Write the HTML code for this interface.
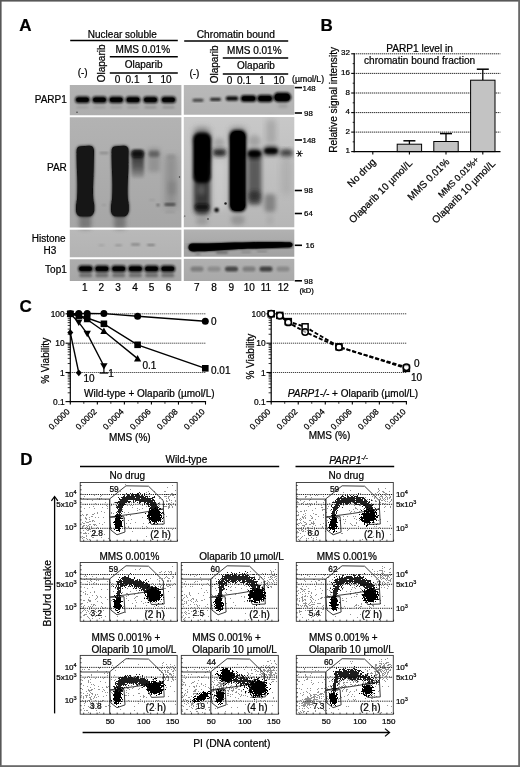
<!DOCTYPE html>
<html><head><meta charset="utf-8"><title>Figure</title>
<style>
html,body{margin:0;padding:0;background:#fff;}
svg{display:block;}
text{font-family:"Liberation Sans",Arial,sans-serif;fill:#000;stroke:#000;stroke-width:0.22px;}
</style></head>
<body>
<svg width="520" height="767" viewBox="0 0 520 767">
<defs>
<filter id="bd" x="-5%" y="-5%" width="110%" height="110%"><feGaussianBlur stdDeviation="0.7"/></filter>
<filter id="b05" x="-20%" y="-20%" width="140%" height="140%"><feGaussianBlur stdDeviation="0.5"/></filter>
<filter id="b1" x="-30%" y="-30%" width="160%" height="160%"><feGaussianBlur stdDeviation="1"/></filter>
<filter id="b15" x="-30%" y="-30%" width="160%" height="160%"><feGaussianBlur stdDeviation="1.5"/></filter>
<filter id="b2" x="-40%" y="-40%" width="180%" height="180%"><feGaussianBlur stdDeviation="2"/></filter>
<filter id="b3" x="-50%" y="-50%" width="200%" height="200%"><feGaussianBlur stdDeviation="3"/></filter>
<filter id="b5" x="-60%" y="-60%" width="220%" height="220%"><feGaussianBlur stdDeviation="5"/></filter>
</defs>
<rect x="0" y="0" width="520" height="767" fill="#fff"/>
<text x="19.30" y="31.00" font-size="17" text-anchor="start" font-weight="bold">A</text>
<text x="122.30" y="38.20" font-size="10" text-anchor="middle" >Nuclear soluble</text>
<line x1="70.20" y1="40.50" x2="177.80" y2="40.50" stroke="#000" stroke-width="1.5" />
<text x="142.80" y="53.10" font-size="10" text-anchor="middle" >MMS 0.01%</text>
<line x1="109.80" y1="56.80" x2="177.80" y2="56.80" stroke="#000" stroke-width="1.5" />
<text x="143.60" y="68.00" font-size="10" text-anchor="middle" >Olaparib</text>
<line x1="109.80" y1="73.10" x2="177.80" y2="73.10" stroke="#000" stroke-width="1.5" />
<text x="117.50" y="82.60" font-size="10" text-anchor="middle" >0</text>
<text x="132.50" y="82.60" font-size="10" text-anchor="middle" >0.1</text>
<text x="150.00" y="82.60" font-size="10" text-anchor="middle" >1</text>
<text x="166.00" y="82.60" font-size="10" text-anchor="middle" >10</text>
<text x="82.70" y="75.60" font-size="10" text-anchor="middle" >(-)</text>
<text transform="translate(105.20 82.30) rotate(-90)" font-size="10" text-anchor="start" >Olaparib</text>
<text x="235.80" y="38.30" font-size="10.2" text-anchor="middle" >Chromatin bound</text>
<line x1="184.20" y1="41.00" x2="288.20" y2="41.00" stroke="#000" stroke-width="1.5" />
<text x="254.30" y="54.40" font-size="10" text-anchor="middle" >MMS 0.01%</text>
<line x1="222.80" y1="57.90" x2="288.20" y2="57.90" stroke="#000" stroke-width="1.5" />
<text x="256.00" y="69.00" font-size="10" text-anchor="middle" >Olaparib</text>
<line x1="222.80" y1="73.90" x2="288.20" y2="73.90" stroke="#000" stroke-width="1.5" />
<text x="229.60" y="83.60" font-size="10" text-anchor="middle" >0</text>
<text x="244.00" y="83.60" font-size="10" text-anchor="middle" >0.1</text>
<text x="262.00" y="83.60" font-size="10" text-anchor="middle" >1</text>
<text x="279.00" y="83.60" font-size="10" text-anchor="middle" >10</text>
<text x="194.40" y="77.00" font-size="10" text-anchor="middle" >(-)</text>
<text transform="translate(218.30 83.30) rotate(-90)" font-size="10" text-anchor="start" >Olaparib</text>
<text x="292.00" y="82.10" font-size="8.7" text-anchor="start" >(µmol/L)</text>
<text x="66.80" y="102.80" font-size="10" text-anchor="end" >PARP1</text>
<text x="66.80" y="170.80" font-size="10" text-anchor="end" >PAR</text>
<text x="48.70" y="241.50" font-size="10" text-anchor="middle" >Histone</text>
<text x="50.00" y="254.40" font-size="10" text-anchor="middle" >H3</text>
<text x="66.80" y="272.60" font-size="10" text-anchor="end" >Top1</text>
<defs><linearGradient id="gl" x1="0" y1="0" x2="1" y2="0"><stop offset="0" stop-color="#aeaeae"/><stop offset="1" stop-color="#b6b6b6"/></linearGradient><linearGradient id="gr" x1="0" y1="0" x2="1" y2="0"><stop offset="0" stop-color="#b8b8b8"/><stop offset="1" stop-color="#b0b0b0"/></linearGradient><clipPath id="cA"><rect x="69.8" y="85" width="111.6" height="30.2"/><rect x="69.8" y="117.3" width="111.6" height="110.2"/><rect x="69.8" y="229.8" width="111.6" height="27.4"/><rect x="69.8" y="259.2" width="111.6" height="21.8"/><rect x="183.8" y="85" width="110.5" height="29.8"/><rect x="183.8" y="117" width="110.5" height="110.3"/><rect x="183.8" y="229.5" width="110.5" height="27.2"/><rect x="183.8" y="258.8" width="110.5" height="22.2"/></clipPath></defs>
<g clip-path="url(#cA)">
<defs><linearGradient id="pL1" x1="0" y1="0" x2="0" y2="1"><stop offset="0" stop-color="#b2b2b2"/><stop offset="1" stop-color="#aeaeae"/></linearGradient></defs>
<defs><linearGradient id="pL2" x1="0" y1="0" x2="0" y2="1"><stop offset="0" stop-color="#b3b3b3"/><stop offset="1" stop-color="#a6a6a6"/></linearGradient></defs>
<defs><linearGradient id="pL3" x1="0" y1="0" x2="0" y2="1"><stop offset="0" stop-color="#b9b9b9"/><stop offset="1" stop-color="#b3b3b3"/></linearGradient></defs>
<defs><linearGradient id="pL4" x1="0" y1="0" x2="0" y2="1"><stop offset="0" stop-color="#adadad"/><stop offset="1" stop-color="#a6a6a6"/></linearGradient></defs>
<defs><linearGradient id="pR1" x1="0" y1="0" x2="0" y2="1"><stop offset="0" stop-color="#b9b9b9"/><stop offset="1" stop-color="#b3b3b3"/></linearGradient></defs>
<defs><linearGradient id="pR2" x1="0" y1="0" x2="0" y2="1"><stop offset="0" stop-color="#c8c8c8"/><stop offset="1" stop-color="#b6b6b6"/></linearGradient></defs>
<defs><linearGradient id="pR3" x1="0" y1="0" x2="0" y2="1"><stop offset="0" stop-color="#b2b2b2"/><stop offset="1" stop-color="#a0a0a0"/></linearGradient></defs>
<defs><linearGradient id="pR4" x1="0" y1="0" x2="0" y2="1"><stop offset="0" stop-color="#b0b0b0"/><stop offset="1" stop-color="#a8a8a8"/></linearGradient></defs>
<rect x="69" y="84" width="113" height="32" fill="url(#pL1)"/>
<rect x="69" y="116.5" width="113" height="112" fill="url(#pL2)"/>
<rect x="69" y="229" width="113" height="29" fill="url(#pL3)"/>
<rect x="69" y="258.5" width="113" height="24" fill="url(#pL4)"/>
<rect x="183" y="84" width="112" height="32" fill="url(#pR1)"/>
<rect x="183" y="116.5" width="112" height="112" fill="url(#pR2)"/>
<rect x="183" y="229" width="112" height="29" fill="url(#pR3)"/>
<rect x="183" y="258.5" width="112" height="24" fill="url(#pR4)"/>
<rect x="75.0" y="96.3" width="15.0" height="7.0" rx="3.5" fill="#111" opacity="0.95" filter="url(#b1)"/>
<rect x="76.2" y="97.8" width="12.5" height="4.0" rx="2.0" fill="#000" opacity="0.9" filter="url(#b05)"/>
<rect x="76.5" y="106.0" width="12.0" height="2.5" rx="1.2" fill="#777" opacity="0.3" filter="url(#b1)"/>
<rect x="92.0" y="96.3" width="15.0" height="7.0" rx="3.5" fill="#111" opacity="0.95" filter="url(#b1)"/>
<rect x="93.2" y="97.8" width="12.5" height="4.0" rx="2.0" fill="#000" opacity="0.9" filter="url(#b05)"/>
<rect x="93.5" y="106.0" width="12.0" height="2.5" rx="1.2" fill="#777" opacity="0.3" filter="url(#b1)"/>
<rect x="108.7" y="96.3" width="15.0" height="7.0" rx="3.5" fill="#111" opacity="0.95" filter="url(#b1)"/>
<rect x="110.0" y="97.8" width="12.5" height="4.0" rx="2.0" fill="#000" opacity="0.9" filter="url(#b05)"/>
<rect x="110.2" y="106.0" width="12.0" height="2.5" rx="1.2" fill="#777" opacity="0.3" filter="url(#b1)"/>
<rect x="125.5" y="96.3" width="15.0" height="7.0" rx="3.5" fill="#111" opacity="0.95" filter="url(#b1)"/>
<rect x="126.8" y="97.8" width="12.5" height="4.0" rx="2.0" fill="#000" opacity="0.9" filter="url(#b05)"/>
<rect x="127.0" y="106.0" width="12.0" height="2.5" rx="1.2" fill="#777" opacity="0.3" filter="url(#b1)"/>
<rect x="143.0" y="96.3" width="15.0" height="7.0" rx="3.5" fill="#111" opacity="0.95" filter="url(#b1)"/>
<rect x="144.2" y="97.8" width="12.5" height="4.0" rx="2.0" fill="#000" opacity="0.9" filter="url(#b05)"/>
<rect x="144.5" y="106.0" width="12.0" height="2.5" rx="1.2" fill="#777" opacity="0.5" filter="url(#b1)"/>
<rect x="161.0" y="96.3" width="15.0" height="7.0" rx="3.5" fill="#111" opacity="0.95" filter="url(#b1)"/>
<rect x="162.2" y="97.8" width="12.5" height="4.0" rx="2.0" fill="#000" opacity="0.9" filter="url(#b05)"/>
<rect x="162.5" y="106.0" width="12.0" height="2.5" rx="1.2" fill="#777" opacity="0.5" filter="url(#b1)"/>
<circle cx="77" cy="112.3" r="0.8" fill="#444"/>
<rect x="79.0" y="215.0" width="12.2" height="14.0" rx="3.0" fill="#707070" opacity="0.85" filter="url(#b2)"/>
<path d="M76.6,151 Q76.6,146.2 81,146.2 L89.2,145.8 Q94.0,145.8 94.0,151 L93.60000000000001,172 Q92.60000000000001,190 93.2,199 Q94.7,205 94.2,211 Q93.2,216.6 88.2,216.6 L82,216.6 Q76.5,216.6 76,211 Q75.7,205 77.1,199 Q77.8,186 76.9,168 Z" fill="#101010" filter="url(#b15)"/>
<path d="M76.6,151 Q76.6,146.2 81,146.2 L89.2,145.8 Q94.0,145.8 94.0,151 L93.60000000000001,172 Q92.60000000000001,190 93.2,199 Q94.7,205 94.2,211 Q93.2,216.6 88.2,216.6 L82,216.6 Q76.5,216.6 76,211 Q75.7,205 77.1,199 Q77.8,186 76.9,168 Z" fill="#121212" filter="url(#b05)"/>
<rect x="114.0" y="215.0" width="11.8" height="14.0" rx="3.0" fill="#707070" opacity="0.85" filter="url(#b2)"/>
<path d="M111.6,151 Q111.6,146.2 116,146.2 L123.80000000000001,145.8 Q128.60000000000002,145.8 128.60000000000002,151 L128.20000000000002,172 Q127.20000000000002,190 127.80000000000001,199 Q129.3,205 128.8,211 Q127.80000000000001,216.6 122.80000000000001,216.6 L117,216.6 Q111.5,216.6 111,211 Q110.7,205 112.1,199 Q112.8,186 111.9,168 Z" fill="#101010" filter="url(#b15)"/>
<path d="M111.6,151 Q111.6,146.2 116,146.2 L123.80000000000001,145.8 Q128.60000000000002,145.8 128.60000000000002,151 L128.20000000000002,172 Q127.20000000000002,190 127.80000000000001,199 Q129.3,205 128.8,211 Q127.80000000000001,216.6 122.80000000000001,216.6 L117,216.6 Q111.5,216.6 111,211 Q110.7,205 112.1,199 Q112.8,186 111.9,168 Z" fill="#121212" filter="url(#b05)"/>
<rect x="99.5" y="151.8" width="9.0" height="2.5" rx="1.2" fill="#777" opacity="0.6" filter="url(#b1)"/>
<rect x="102.0" y="204.0" width="4.0" height="2.0" rx="1.0" fill="#888" opacity="0.4" filter="url(#b1)"/>
<defs><linearGradient id="g4" x1="0" y1="0" x2="0" y2="1"><stop offset="0" stop-color="#111"/><stop offset="0.3" stop-color="#333"/><stop offset="0.65" stop-color="#555"/><stop offset="1" stop-color="#999"/></linearGradient></defs>
<rect x="131.5" y="150" width="12.5" height="28" rx="3" fill="url(#g4)" opacity="0.9" filter="url(#b15)"/>
<rect x="131.5" y="150.5" width="12.0" height="7.0" rx="3.0" fill="#080808" opacity="0.9" filter="url(#b15)"/>
<rect x="148.0" y="148.0" width="12.0" height="24.0" rx="3.0" fill="#888" opacity="0.7" filter="url(#b2)"/>
<rect x="148.5" y="151.0" width="11.0" height="6.0" rx="3.0" fill="#555" opacity="0.8" filter="url(#b15)"/>
<rect x="156.5" y="203.8" width="3.0" height="2.5" rx="1.2" fill="#444" opacity="0.7" filter="url(#b1)"/>
<rect x="149.5" y="199.0" width="5.0" height="2.0" rx="1.0" fill="#888" opacity="0.4" filter="url(#b1)"/>
<rect x="165.0" y="156.0" width="12.0" height="52.0" rx="4.0" fill="#8c8c8c" opacity="0.85" filter="url(#b3)"/>
<rect x="168.0" y="181.0" width="8.0" height="14.0" rx="3.0" fill="#777" opacity="0.5" filter="url(#b2)"/>
<rect x="166.5" y="154.5" width="9.0" height="5.0" rx="2.5" fill="#888" opacity="0.6" filter="url(#b15)"/>
<rect x="164.5" y="203.2" width="11.0" height="2.5" rx="1.2" fill="#333" opacity="0.85" filter="url(#b1)"/>
<rect x="165.0" y="211.0" width="10.0" height="2.0" rx="1.0" fill="#888" opacity="0.4" filter="url(#b1)"/>
<circle cx="179.5" cy="177" r="0.7" fill="#333"/><circle cx="183" cy="217" r="0.6" fill="#333"/>
<rect x="98.5" y="244.4" width="6.0" height="1.8" rx="0.9" fill="#888" opacity="0.5" filter="url(#b1)"/>
<rect x="115.0" y="244.4" width="7.0" height="1.8" rx="0.9" fill="#777" opacity="0.6" filter="url(#b1)"/>
<rect x="131.0" y="243.5" width="9.0" height="2.0" rx="1.0" fill="#666" opacity="0.7" filter="url(#b1)"/>
<rect x="147.0" y="244.0" width="8.0" height="2.0" rx="1.0" fill="#666" opacity="0.7" filter="url(#b1)"/>
<rect x="79.1" y="273.3" width="13.0" height="4.0" rx="2.0" fill="#555" opacity="0.7" filter="url(#b1)"/>
<rect x="78.1" y="265.3" width="15.0" height="7.0" rx="3.5" fill="#111" opacity="0.95" filter="url(#b1)"/>
<rect x="79.3" y="266.8" width="12.5" height="4.0" rx="2.0" fill="#000" opacity="0.9" filter="url(#b05)"/>
<rect x="95.4" y="273.3" width="13.0" height="4.0" rx="2.0" fill="#555" opacity="0.7" filter="url(#b1)"/>
<rect x="94.4" y="265.3" width="15.0" height="7.0" rx="3.5" fill="#111" opacity="0.95" filter="url(#b1)"/>
<rect x="95.7" y="266.8" width="12.5" height="4.0" rx="2.0" fill="#000" opacity="0.9" filter="url(#b05)"/>
<rect x="112.2" y="273.3" width="13.0" height="4.0" rx="2.0" fill="#555" opacity="0.7" filter="url(#b1)"/>
<rect x="111.2" y="265.3" width="15.0" height="7.0" rx="3.5" fill="#111" opacity="0.95" filter="url(#b1)"/>
<rect x="112.5" y="266.8" width="12.5" height="4.0" rx="2.0" fill="#000" opacity="0.9" filter="url(#b05)"/>
<rect x="128.9" y="273.3" width="13.0" height="4.0" rx="2.0" fill="#555" opacity="0.7" filter="url(#b1)"/>
<rect x="127.9" y="265.3" width="15.0" height="7.0" rx="3.5" fill="#111" opacity="0.95" filter="url(#b1)"/>
<rect x="129.2" y="266.8" width="12.5" height="4.0" rx="2.0" fill="#000" opacity="0.9" filter="url(#b05)"/>
<rect x="145.1" y="273.3" width="13.0" height="4.0" rx="2.0" fill="#555" opacity="0.7" filter="url(#b1)"/>
<rect x="144.1" y="265.3" width="15.0" height="7.0" rx="3.5" fill="#111" opacity="0.95" filter="url(#b1)"/>
<rect x="145.3" y="266.8" width="12.5" height="4.0" rx="2.0" fill="#000" opacity="0.9" filter="url(#b05)"/>
<rect x="161.3" y="273.3" width="13.0" height="4.0" rx="2.0" fill="#555" opacity="0.7" filter="url(#b1)"/>
<rect x="160.3" y="265.3" width="15.0" height="7.0" rx="3.5" fill="#111" opacity="0.95" filter="url(#b1)"/>
<rect x="161.6" y="266.8" width="12.5" height="4.0" rx="2.0" fill="#000" opacity="0.9" filter="url(#b05)"/>
<rect x="192.5" y="98.7" width="11.0" height="3.0" rx="1.5" fill="#333" opacity="0.9" filter="url(#b1)"/>
<rect x="210.0" y="97.8" width="11.0" height="3.2" rx="1.6" fill="#222" opacity="0.95" filter="url(#b1)"/>
<rect x="225.8" y="96.3" width="12.5" height="4.5" rx="2.2" fill="#111" opacity="1" filter="url(#b1)"/>
<rect x="240.5" y="95.1" width="16.0" height="7.0" rx="3.5" fill="#0a0a0a" opacity="1" filter="url(#b1)"/>
<rect x="242.0" y="96.6" width="13.0" height="4.0" rx="2.0" fill="#000" opacity="1" filter="url(#b05)"/>
<rect x="257.0" y="94.8" width="16.0" height="7.5" rx="3.8" fill="#0a0a0a" opacity="1" filter="url(#b1)"/>
<rect x="258.5" y="96.3" width="13.0" height="4.5" rx="2.2" fill="#000" opacity="1" filter="url(#b05)"/>
<rect x="273.3" y="92.2" width="18.0" height="10.0" rx="5.0" fill="#0a0a0a" opacity="1" filter="url(#b1)"/>
<rect x="274.8" y="93.7" width="15.0" height="7.0" rx="3.5" fill="#000" opacity="1" filter="url(#b05)"/>
<rect x="278.0" y="104.0" width="10.0" height="4.0" rx="2.0" fill="#888" opacity="0.5" filter="url(#b15)"/>
<rect x="194.5" y="128.0" width="15.0" height="16.0" rx="4.0" fill="#555" opacity="0.7" filter="url(#b3)"/>
<rect x="230.3" y="128.0" width="15.0" height="16.0" rx="4.0" fill="#555" opacity="0.7" filter="url(#b3)"/>
<rect x="193.8" y="133.0" width="16.5" height="82.0" rx="6.0" fill="#333" opacity="0.95" filter="url(#b2)"/>
<rect x="193.4" y="133.0" width="17.5" height="50.0" rx="6.0" fill="#050505" opacity="1" filter="url(#b15)"/>
<rect x="194.7" y="135.0" width="15.0" height="44.0" rx="6.0" fill="#000" opacity="1" filter="url(#b05)"/>
<rect x="197.0" y="185.0" width="8.0" height="10.0" rx="4.0" fill="#777" opacity="0.5" filter="url(#b2)"/>
<rect x="195.0" y="204.0" width="14.0" height="6.0" rx="3.0" fill="#0a0a0a" opacity="0.85" filter="url(#b15)"/>
<rect x="196.0" y="217.0" width="12.0" height="8.0" rx="4.0" fill="#888" opacity="0.6" filter="url(#b2)"/>
<rect x="212.8" y="148.8" width="13.5" height="7.5" rx="3.8" fill="#1a1a1a" opacity="0.95" filter="url(#b2)"/>
<rect x="213.5" y="160.0" width="12.0" height="50.0" rx="4.0" fill="#ddd" opacity="0.4" filter="url(#b3)"/>
<rect x="214.3" y="207.8" width="4.6" height="4.4" rx="2.2" fill="#000" opacity="1" filter="url(#b1)"/>
<rect x="224.3" y="202.2" width="2.5" height="2.5" rx="1.2" fill="#111" opacity="0.9" filter="url(#b05)"/>
<rect x="213.5" y="138.0" width="11.0" height="10.0" rx="5.0" fill="#888" opacity="0.5" filter="url(#b2)"/>
<rect x="230.8" y="215.0" width="14.0" height="10.0" rx="5.0" fill="#888" opacity="0.7" filter="url(#b2)"/>
<rect x="229.3" y="130.0" width="17.0" height="82.0" rx="6.0" fill="#000" opacity="1" filter="url(#b15)"/>
<rect x="230.3" y="131.0" width="15.0" height="80.0" rx="6.0" fill="#000" opacity="1" filter="url(#b05)"/>
<rect x="247.5" y="155.0" width="14.0" height="50.0" rx="4.0" fill="#4a4a4a" opacity="0.85" filter="url(#b2)"/>
<rect x="247.2" y="149.3" width="14.5" height="9.0" rx="4.5" fill="#060606" opacity="1" filter="url(#b2)"/>
<rect x="248.5" y="151.8" width="12.0" height="4.0" rx="2.0" fill="#000" opacity="0.9" filter="url(#b1)"/>
<rect x="248.5" y="191.0" width="12.0" height="10.0" rx="5.0" fill="#222" opacity="0.7" filter="url(#b2)"/>
<rect x="248.5" y="135.0" width="12.0" height="12.0" rx="6.0" fill="#888" opacity="0.55" filter="url(#b2)"/>
<rect x="263.5" y="146.8" width="15.0" height="8.5" rx="4.2" fill="#060606" opacity="1" filter="url(#b2)"/>
<rect x="265.0" y="149.2" width="12.0" height="3.5" rx="1.8" fill="#000" opacity="0.9" filter="url(#b1)"/>
<rect x="265.0" y="155.0" width="12.0" height="40.0" rx="4.0" fill="#c4c4c4" opacity="0.25" filter="url(#b3)"/>
<rect x="264.5" y="194.0" width="11.0" height="18.0" rx="4.0" fill="#666" opacity="0.65" filter="url(#b2)"/>
<rect x="267.0" y="215.0" width="6.0" height="10.0" rx="3.0" fill="#999" opacity="0.4" filter="url(#b2)"/>
<rect x="266.5" y="119.0" width="9.0" height="26.0" rx="4.5" fill="#8a8a8a" opacity="0.55" filter="url(#b3)"/>
<rect x="280.2" y="149.5" width="12.5" height="7.0" rx="3.5" fill="#2a2a2a" opacity="0.9" filter="url(#b2)"/>
<rect x="281.5" y="155.0" width="10.0" height="40.0" rx="5.0" fill="#999" opacity="0.4" filter="url(#b3)"/>
<circle cx="208" cy="219" r="0.8" fill="#222"/><circle cx="184.8" cy="216" r="0.6" fill="#222"/>
<path d="M189,247.3 C210,247.3 230,246 252,245.5 S282,244.8 292,244.7" stroke="#6a6a6a" stroke-width="15" fill="none" opacity="0.55" filter="url(#b3)"/>
<path d="M188.5,247.5 Q188.5,243.6 193,243.5 C210,243.6 228,242.6 250,242.2 S280,242 290,242.2 Q292.6,242.4 292.6,244.7 Q292.6,247 290,247.2 C280,247.5 262,248.3 250,248.6 S212,251.5 194,251.5 Q188.5,251.5 188.5,247.5 Z" fill="#060606" filter="url(#b1)"/>
<path d="M188.5,247.5 Q188.5,243.6 193,243.5 C210,243.6 228,242.6 250,242.2 S280,242 290,242.2 Q292.6,242.4 292.6,244.7 Q292.6,247 290,247.2 C280,247.5 262,248.3 250,248.6 S212,251.5 194,251.5 Q188.5,251.5 188.5,247.5 Z" fill="#000" filter="url(#b05)" opacity="0.9"/>
<rect x="216.0" y="251.5" width="12.0" height="2.0" rx="1.0" fill="#444" opacity="0.7" filter="url(#b1)"/>
<rect x="241.0" y="251.2" width="10.0" height="1.5" rx="0.8" fill="#666" opacity="0.6" filter="url(#b1)"/>
<rect x="257.0" y="250.8" width="10.0" height="1.5" rx="0.8" fill="#666" opacity="0.6" filter="url(#b1)"/>
<rect x="195.5" y="253.2" width="5.0" height="1.5" rx="0.8" fill="#555" opacity="0.6" filter="url(#b1)"/>
<rect x="190.5" y="266.5" width="13.0" height="5.0" rx="2.5" fill="#555" opacity="0.55" filter="url(#b1)"/>
<rect x="207.5" y="266.5" width="13.0" height="5.0" rx="2.5" fill="#666" opacity="0.45" filter="url(#b1)"/>
<rect x="225.0" y="266.5" width="13.0" height="5.0" rx="2.5" fill="#333" opacity="0.85" filter="url(#b1)"/>
<rect x="242.5" y="266.5" width="13.0" height="5.0" rx="2.5" fill="#555" opacity="0.55" filter="url(#b1)"/>
<rect x="259.5" y="266.5" width="13.0" height="5.0" rx="2.5" fill="#333" opacity="0.9" filter="url(#b1)"/>
<rect x="276.5" y="266.5" width="13.0" height="5.0" rx="2.5" fill="#666" opacity="0.5" filter="url(#b1)"/>
</g>
<line x1="294.80" y1="87.60" x2="302.00" y2="87.60" stroke="#000" stroke-width="1.6" />
<text x="302.50" y="90.50" font-size="7.9" text-anchor="start" >148</text>
<line x1="294.80" y1="113.00" x2="302.00" y2="113.00" stroke="#000" stroke-width="1.6" />
<text x="304.00" y="115.90" font-size="7.9" text-anchor="start" >98</text>
<line x1="294.80" y1="140.00" x2="302.00" y2="140.00" stroke="#000" stroke-width="1.6" />
<text x="302.50" y="142.90" font-size="7.9" text-anchor="start" >148</text>
<line x1="294.80" y1="190.50" x2="302.00" y2="190.50" stroke="#000" stroke-width="1.6" />
<text x="304.00" y="193.40" font-size="7.9" text-anchor="start" >98</text>
<line x1="294.80" y1="213.50" x2="302.00" y2="213.50" stroke="#000" stroke-width="1.6" />
<text x="304.00" y="216.40" font-size="7.9" text-anchor="start" >64</text>
<line x1="294.80" y1="245.30" x2="302.00" y2="245.30" stroke="#000" stroke-width="1.6" />
<text x="305.50" y="248.20" font-size="7.9" text-anchor="start" >16</text>
<line x1="294.80" y1="280.80" x2="302.00" y2="280.80" stroke="#000" stroke-width="1.6" />
<text x="304.00" y="283.70" font-size="7.9" text-anchor="start" >98</text>
<text transform="translate(299.4 153.9) rotate(90)" font-family="DejaVu Sans, sans-serif" font-size="11" text-anchor="middle" dy="3.2" style="stroke-width:0">∗</text>
<text x="299.50" y="293.20" font-size="7.6" text-anchor="start" >(kD)</text>
<text x="84.80" y="290.90" font-size="10" text-anchor="middle" >1</text>
<text x="101.30" y="290.90" font-size="10" text-anchor="middle" >2</text>
<text x="118.00" y="290.90" font-size="10" text-anchor="middle" >3</text>
<text x="135.00" y="290.90" font-size="10" text-anchor="middle" >4</text>
<text x="151.60" y="290.90" font-size="10" text-anchor="middle" >5</text>
<text x="168.50" y="290.90" font-size="10" text-anchor="middle" >6</text>
<text x="196.70" y="290.90" font-size="10" text-anchor="middle" >7</text>
<text x="214.00" y="290.90" font-size="10" text-anchor="middle" >8</text>
<text x="231.30" y="290.90" font-size="10" text-anchor="middle" >9</text>
<text x="249.20" y="290.90" font-size="10" text-anchor="middle" >10</text>
<text x="266.00" y="290.90" font-size="10" text-anchor="middle" >11</text>
<text x="283.30" y="290.90" font-size="10" text-anchor="middle" >12</text>
<text x="320.40" y="31.00" font-size="17" text-anchor="start" font-weight="bold">B</text>
<line x1="354.20" y1="53.80" x2="500.50" y2="53.80" stroke="#000" stroke-width="1" stroke-dasharray="1.1 0.9"/>
<line x1="354.20" y1="73.40" x2="500.50" y2="73.40" stroke="#000" stroke-width="1" stroke-dasharray="1.1 0.9"/>
<line x1="354.20" y1="93.00" x2="500.50" y2="93.00" stroke="#000" stroke-width="1" stroke-dasharray="1.1 0.9"/>
<line x1="354.20" y1="112.60" x2="500.50" y2="112.60" stroke="#000" stroke-width="1" stroke-dasharray="1.1 0.9"/>
<line x1="354.20" y1="132.10" x2="500.50" y2="132.10" stroke="#000" stroke-width="1" stroke-dasharray="1.1 0.9"/>
<text x="419.60" y="52.00" font-size="10.1" text-anchor="middle" >PARP1 level in</text>
<text x="419.60" y="64.00" font-size="10.1" text-anchor="middle" >chromatin bound fraction</text>
<line x1="409.40" y1="144.20" x2="409.40" y2="140.80" stroke="#000" stroke-width="1.3" />
<line x1="403.40" y1="140.80" x2="415.40" y2="140.80" stroke="#000" stroke-width="1.5" />
<rect x="397.2" y="144.2" width="24.4" height="7.4" fill="#c3c3c3" stroke="#000" stroke-width="1"/>
<line x1="446.00" y1="141.50" x2="446.00" y2="133.60" stroke="#000" stroke-width="1.3" />
<line x1="440.00" y1="133.60" x2="452.00" y2="133.60" stroke="#000" stroke-width="1.5" />
<rect x="433.8" y="141.5" width="24.4" height="10.1" fill="#c3c3c3" stroke="#000" stroke-width="1"/>
<line x1="482.80" y1="80.20" x2="482.80" y2="69.20" stroke="#000" stroke-width="1.3" />
<line x1="476.80" y1="69.20" x2="488.80" y2="69.20" stroke="#000" stroke-width="1.5" />
<rect x="470.6" y="80.2" width="24.4" height="71.4" fill="#c3c3c3" stroke="#000" stroke-width="1"/>
<line x1="354.20" y1="53.20" x2="354.20" y2="152.20" stroke="#000" stroke-width="1.2" />
<line x1="353.60" y1="151.60" x2="500.50" y2="151.60" stroke="#000" stroke-width="1.2" />
<line x1="351.20" y1="53.80" x2="354.20" y2="53.80" stroke="#000" stroke-width="1.1" />
<text x="350.00" y="55.40" font-size="8" text-anchor="end" >32</text>
<line x1="351.20" y1="73.40" x2="354.20" y2="73.40" stroke="#000" stroke-width="1.1" />
<text x="350.00" y="75.00" font-size="8" text-anchor="end" >16</text>
<line x1="351.20" y1="93.00" x2="354.20" y2="93.00" stroke="#000" stroke-width="1.1" />
<text x="350.00" y="94.60" font-size="8" text-anchor="end" >8</text>
<line x1="351.20" y1="112.60" x2="354.20" y2="112.60" stroke="#000" stroke-width="1.1" />
<text x="350.00" y="114.20" font-size="8" text-anchor="end" >4</text>
<line x1="351.20" y1="132.10" x2="354.20" y2="132.10" stroke="#000" stroke-width="1.1" />
<text x="350.00" y="133.70" font-size="8" text-anchor="end" >2</text>
<line x1="351.20" y1="151.60" x2="354.20" y2="151.60" stroke="#000" stroke-width="1.1" />
<text x="350.00" y="153.20" font-size="8" text-anchor="end" >1</text>
<line x1="352.70" y1="63.60" x2="354.20" y2="63.60" stroke="#000" stroke-width="0.9" />
<line x1="352.70" y1="83.20" x2="354.20" y2="83.20" stroke="#000" stroke-width="0.9" />
<line x1="352.70" y1="102.80" x2="354.20" y2="102.80" stroke="#000" stroke-width="0.9" />
<line x1="352.70" y1="122.35" x2="354.20" y2="122.35" stroke="#000" stroke-width="0.9" />
<line x1="352.70" y1="141.85" x2="354.20" y2="141.85" stroke="#000" stroke-width="0.9" />
<line x1="372.80" y1="151.60" x2="372.80" y2="154.60" stroke="#000" stroke-width="1.1" />
<line x1="409.40" y1="151.60" x2="409.40" y2="154.60" stroke="#000" stroke-width="1.1" />
<line x1="446.00" y1="151.60" x2="446.00" y2="154.60" stroke="#000" stroke-width="1.1" />
<line x1="482.80" y1="151.60" x2="482.80" y2="154.60" stroke="#000" stroke-width="1.1" />
<text transform="translate(337.10 152.80) rotate(-90)" font-size="10.15" text-anchor="start" >Relative signal intensity</text>
<text transform="translate(376.50 162.50) rotate(-45)" font-size="10" text-anchor="end" >No drug</text>
<text transform="translate(413.00 163.80) rotate(-45)" font-size="10" text-anchor="end" >Olaparib 10 µmol/L</text>
<text transform="translate(450.00 162.50) rotate(-45)" font-size="10" text-anchor="end" >MMS 0.01%</text>
<text transform="translate(479.50 160.30) rotate(-45)" font-size="8.9" text-anchor="end" >MMS 0.01%+</text>
<text transform="translate(496.00 164.20) rotate(-45)" font-size="10" text-anchor="end" >Olaparib 10 µmol/L</text>
<text x="19.60" y="311.80" font-size="17" text-anchor="start" font-weight="bold">C</text>
<line x1="70.30" y1="313.80" x2="205.30" y2="313.80" stroke="#000" stroke-width="0.9" stroke-dasharray="1 1"/>
<line x1="70.30" y1="343.20" x2="205.30" y2="343.20" stroke="#000" stroke-width="0.9" stroke-dasharray="1 1"/>
<line x1="70.30" y1="372.50" x2="205.30" y2="372.50" stroke="#000" stroke-width="0.9" stroke-dasharray="1 1"/>
<line x1="70.30" y1="312.50" x2="70.30" y2="402.20" stroke="#000" stroke-width="1.2" />
<line x1="69.70" y1="401.60" x2="206.10" y2="401.60" stroke="#000" stroke-width="1.2" />
<line x1="65.50" y1="313.80" x2="70.30" y2="313.80" stroke="#000" stroke-width="1.1" />
<text x="64.70" y="316.80" font-size="8.4" text-anchor="end" stroke="#000" stroke-width="0.25">100</text>
<line x1="65.50" y1="343.20" x2="70.30" y2="343.20" stroke="#000" stroke-width="1.1" />
<text x="64.70" y="346.20" font-size="8.4" text-anchor="end" stroke="#000" stroke-width="0.25">10</text>
<line x1="65.50" y1="372.50" x2="70.30" y2="372.50" stroke="#000" stroke-width="1.1" />
<text x="64.70" y="375.50" font-size="8.4" text-anchor="end" stroke="#000" stroke-width="0.25">1</text>
<line x1="65.50" y1="401.60" x2="70.30" y2="401.60" stroke="#000" stroke-width="1.1" />
<text x="64.70" y="404.60" font-size="8.4" text-anchor="end" stroke="#000" stroke-width="0.25">0.1</text>
<line x1="67.70" y1="334.26" x2="70.30" y2="334.26" stroke="#000" stroke-width="0.8" />
<line x1="67.70" y1="329.10" x2="70.30" y2="329.10" stroke="#000" stroke-width="0.8" />
<line x1="67.70" y1="325.45" x2="70.30" y2="325.45" stroke="#000" stroke-width="0.8" />
<line x1="67.70" y1="322.61" x2="70.30" y2="322.61" stroke="#000" stroke-width="0.8" />
<line x1="67.70" y1="320.29" x2="70.30" y2="320.29" stroke="#000" stroke-width="0.8" />
<line x1="67.70" y1="318.33" x2="70.30" y2="318.33" stroke="#000" stroke-width="0.8" />
<line x1="67.70" y1="316.64" x2="70.30" y2="316.64" stroke="#000" stroke-width="0.8" />
<line x1="67.70" y1="315.14" x2="70.30" y2="315.14" stroke="#000" stroke-width="0.8" />
<line x1="67.70" y1="363.53" x2="70.30" y2="363.53" stroke="#000" stroke-width="0.8" />
<line x1="67.70" y1="358.37" x2="70.30" y2="358.37" stroke="#000" stroke-width="0.8" />
<line x1="67.70" y1="354.72" x2="70.30" y2="354.72" stroke="#000" stroke-width="0.8" />
<line x1="67.70" y1="351.88" x2="70.30" y2="351.88" stroke="#000" stroke-width="0.8" />
<line x1="67.70" y1="349.56" x2="70.30" y2="349.56" stroke="#000" stroke-width="0.8" />
<line x1="67.70" y1="347.60" x2="70.30" y2="347.60" stroke="#000" stroke-width="0.8" />
<line x1="67.70" y1="345.91" x2="70.30" y2="345.91" stroke="#000" stroke-width="0.8" />
<line x1="67.70" y1="344.41" x2="70.30" y2="344.41" stroke="#000" stroke-width="0.8" />
<line x1="67.70" y1="392.80" x2="70.30" y2="392.80" stroke="#000" stroke-width="0.8" />
<line x1="67.70" y1="387.64" x2="70.30" y2="387.64" stroke="#000" stroke-width="0.8" />
<line x1="67.70" y1="383.99" x2="70.30" y2="383.99" stroke="#000" stroke-width="0.8" />
<line x1="67.70" y1="381.15" x2="70.30" y2="381.15" stroke="#000" stroke-width="0.8" />
<line x1="67.70" y1="378.83" x2="70.30" y2="378.83" stroke="#000" stroke-width="0.8" />
<line x1="67.70" y1="376.87" x2="70.30" y2="376.87" stroke="#000" stroke-width="0.8" />
<line x1="67.70" y1="375.18" x2="70.30" y2="375.18" stroke="#000" stroke-width="0.8" />
<line x1="67.70" y1="373.68" x2="70.30" y2="373.68" stroke="#000" stroke-width="0.8" />
<line x1="70.30" y1="401.60" x2="70.30" y2="404.60" stroke="#000" stroke-width="1.1" />
<text transform="translate(70.20 412.10) rotate(-45)" font-size="8.4" text-anchor="end" stroke="#000" stroke-width="0.25">0.0000</text>
<line x1="97.34" y1="401.60" x2="97.34" y2="404.60" stroke="#000" stroke-width="1.1" />
<text transform="translate(97.24 412.10) rotate(-45)" font-size="8.4" text-anchor="end" stroke="#000" stroke-width="0.25">0.0002</text>
<line x1="124.38" y1="401.60" x2="124.38" y2="404.60" stroke="#000" stroke-width="1.1" />
<text transform="translate(124.28 412.10) rotate(-45)" font-size="8.4" text-anchor="end" stroke="#000" stroke-width="0.25">0.0004</text>
<line x1="151.42" y1="401.60" x2="151.42" y2="404.60" stroke="#000" stroke-width="1.1" />
<text transform="translate(151.32 412.10) rotate(-45)" font-size="8.4" text-anchor="end" stroke="#000" stroke-width="0.25">0.0006</text>
<line x1="178.46" y1="401.60" x2="178.46" y2="404.60" stroke="#000" stroke-width="1.1" />
<text transform="translate(178.36 412.10) rotate(-45)" font-size="8.4" text-anchor="end" stroke="#000" stroke-width="0.25">0.0008</text>
<line x1="205.50" y1="401.60" x2="205.50" y2="404.60" stroke="#000" stroke-width="1.1" />
<text transform="translate(205.40 412.10) rotate(-45)" font-size="8.4" text-anchor="end" stroke="#000" stroke-width="0.25">0.0010</text>
<line x1="83.82" y1="401.60" x2="83.82" y2="403.80" stroke="#000" stroke-width="0.8" />
<line x1="110.86" y1="401.60" x2="110.86" y2="403.80" stroke="#000" stroke-width="0.8" />
<line x1="137.90" y1="401.60" x2="137.90" y2="403.80" stroke="#000" stroke-width="0.8" />
<line x1="164.94" y1="401.60" x2="164.94" y2="403.80" stroke="#000" stroke-width="0.8" />
<line x1="191.98" y1="401.60" x2="191.98" y2="403.80" stroke="#000" stroke-width="0.8" />
<polyline points="70.3,313.8 78.8,313.6 87.2,313.5 103.9,313.6 137.6,316.3 205.3,321.3" fill="none" stroke="#000" stroke-width="1.4"/>
<polyline points="70.3,313.8 78.8,315.5 87.2,318.0 103.9,323.8 137.6,344.8 205.3,368.3" fill="none" stroke="#000" stroke-width="1.4"/>
<polyline points="70.3,313.8 78.8,316.0 87.2,319.5 103.9,331.2 137.6,358.6" fill="none" stroke="#000" stroke-width="1.4"/>
<polyline points="70.3,313.8 78.8,322.4 87.2,333.6 103.9,366.0" fill="none" stroke="#000" stroke-width="1.4"/>
<polyline points="70.3,332.6 78.8,372.8" fill="none" stroke="#000" stroke-width="1.4"/>
<line x1="103.90" y1="366.00" x2="103.90" y2="373.00" stroke="#000" stroke-width="1.2" />
<line x1="99.60" y1="373.00" x2="108.20" y2="373.00" stroke="#000" stroke-width="1.3" />
<path d="M67.3,332.6 L70.3,329.2 L73.3,332.6 L70.3,336.0 Z" fill="#000"/>
<path d="M75.8,372.8 L78.8,369.4 L81.8,372.8 L78.8,376.2 Z" fill="#000"/>
<path d="M66.6,311.0 L74.0,311.0 L70.3,317.4 Z" fill="#000"/>
<path d="M75.0,319.6 L82.5,319.6 L78.8,326.0 Z" fill="#000"/>
<path d="M83.5,330.8 L90.9,330.8 L87.2,337.2 Z" fill="#000"/>
<path d="M100.2,363.2 L107.6,363.2 L103.9,369.6 Z" fill="#000"/>
<path d="M66.7,316.6 L73.9,316.6 L70.3,310.2 Z" fill="#000"/>
<path d="M75.2,318.8 L82.3,318.8 L78.8,312.4 Z" fill="#000"/>
<path d="M83.6,322.3 L90.8,322.3 L87.2,315.9 Z" fill="#000"/>
<path d="M100.3,334.0 L107.5,334.0 L103.9,327.6 Z" fill="#000"/>
<path d="M134.0,361.4 L141.2,361.4 L137.6,355.0 Z" fill="#000"/>
<circle cx="70.3" cy="313.8" r="3.5" fill="#000"/>
<circle cx="78.8" cy="313.6" r="3.5" fill="#000"/>
<circle cx="87.2" cy="313.5" r="3.5" fill="#000"/>
<circle cx="103.9" cy="313.6" r="3.5" fill="#000"/>
<circle cx="137.6" cy="316.3" r="3.5" fill="#000"/>
<circle cx="205.3" cy="321.3" r="3.5" fill="#000"/>
<rect x="67.0" y="310.5" width="6.6" height="6.6" fill="#000"/>
<rect x="75.5" y="312.2" width="6.6" height="6.6" fill="#000"/>
<rect x="83.9" y="314.7" width="6.6" height="6.6" fill="#000"/>
<rect x="100.6" y="320.5" width="6.6" height="6.6" fill="#000"/>
<rect x="134.3" y="341.5" width="6.6" height="6.6" fill="#000"/>
<rect x="202.0" y="365.0" width="6.6" height="6.6" fill="#000"/>
<text x="211.00" y="324.90" font-size="10" text-anchor="start" >0</text>
<text x="211.00" y="374.30" font-size="10" text-anchor="start" >0.01</text>
<text x="142.50" y="369.00" font-size="10" text-anchor="start" >0.1</text>
<text x="108.30" y="376.60" font-size="10" text-anchor="start" >1</text>
<text x="83.50" y="381.70" font-size="10" text-anchor="start" >10</text>
<text x="84.00" y="397.20" font-size="10" text-anchor="start" >Wild-type + Olaparib (µmol/L)</text>
<text x="129.80" y="441.30" font-size="10" text-anchor="middle" >MMS (%)</text>
<text transform="translate(49.00 383.80) rotate(-90)" font-size="10" text-anchor="start" >% Viability</text>
<line x1="271.20" y1="313.80" x2="406.20" y2="313.80" stroke="#000" stroke-width="0.9" stroke-dasharray="1 1"/>
<line x1="271.20" y1="343.20" x2="406.20" y2="343.20" stroke="#000" stroke-width="0.9" stroke-dasharray="1 1"/>
<line x1="271.20" y1="372.50" x2="406.20" y2="372.50" stroke="#000" stroke-width="0.9" stroke-dasharray="1 1"/>
<line x1="271.20" y1="312.50" x2="271.20" y2="402.20" stroke="#000" stroke-width="1.2" />
<line x1="270.60" y1="401.60" x2="407.00" y2="401.60" stroke="#000" stroke-width="1.2" />
<line x1="266.40" y1="313.80" x2="271.20" y2="313.80" stroke="#000" stroke-width="1.1" />
<text x="265.60" y="316.80" font-size="8.4" text-anchor="end" stroke="#000" stroke-width="0.25">100</text>
<line x1="266.40" y1="343.20" x2="271.20" y2="343.20" stroke="#000" stroke-width="1.1" />
<text x="265.60" y="346.20" font-size="8.4" text-anchor="end" stroke="#000" stroke-width="0.25">10</text>
<line x1="266.40" y1="372.50" x2="271.20" y2="372.50" stroke="#000" stroke-width="1.1" />
<text x="265.60" y="375.50" font-size="8.4" text-anchor="end" stroke="#000" stroke-width="0.25">1</text>
<line x1="266.40" y1="401.60" x2="271.20" y2="401.60" stroke="#000" stroke-width="1.1" />
<text x="265.60" y="404.60" font-size="8.4" text-anchor="end" stroke="#000" stroke-width="0.25">0.1</text>
<line x1="268.60" y1="334.26" x2="271.20" y2="334.26" stroke="#000" stroke-width="0.8" />
<line x1="268.60" y1="329.10" x2="271.20" y2="329.10" stroke="#000" stroke-width="0.8" />
<line x1="268.60" y1="325.45" x2="271.20" y2="325.45" stroke="#000" stroke-width="0.8" />
<line x1="268.60" y1="322.61" x2="271.20" y2="322.61" stroke="#000" stroke-width="0.8" />
<line x1="268.60" y1="320.29" x2="271.20" y2="320.29" stroke="#000" stroke-width="0.8" />
<line x1="268.60" y1="318.33" x2="271.20" y2="318.33" stroke="#000" stroke-width="0.8" />
<line x1="268.60" y1="316.64" x2="271.20" y2="316.64" stroke="#000" stroke-width="0.8" />
<line x1="268.60" y1="315.14" x2="271.20" y2="315.14" stroke="#000" stroke-width="0.8" />
<line x1="268.60" y1="363.53" x2="271.20" y2="363.53" stroke="#000" stroke-width="0.8" />
<line x1="268.60" y1="358.37" x2="271.20" y2="358.37" stroke="#000" stroke-width="0.8" />
<line x1="268.60" y1="354.72" x2="271.20" y2="354.72" stroke="#000" stroke-width="0.8" />
<line x1="268.60" y1="351.88" x2="271.20" y2="351.88" stroke="#000" stroke-width="0.8" />
<line x1="268.60" y1="349.56" x2="271.20" y2="349.56" stroke="#000" stroke-width="0.8" />
<line x1="268.60" y1="347.60" x2="271.20" y2="347.60" stroke="#000" stroke-width="0.8" />
<line x1="268.60" y1="345.91" x2="271.20" y2="345.91" stroke="#000" stroke-width="0.8" />
<line x1="268.60" y1="344.41" x2="271.20" y2="344.41" stroke="#000" stroke-width="0.8" />
<line x1="268.60" y1="392.80" x2="271.20" y2="392.80" stroke="#000" stroke-width="0.8" />
<line x1="268.60" y1="387.64" x2="271.20" y2="387.64" stroke="#000" stroke-width="0.8" />
<line x1="268.60" y1="383.99" x2="271.20" y2="383.99" stroke="#000" stroke-width="0.8" />
<line x1="268.60" y1="381.15" x2="271.20" y2="381.15" stroke="#000" stroke-width="0.8" />
<line x1="268.60" y1="378.83" x2="271.20" y2="378.83" stroke="#000" stroke-width="0.8" />
<line x1="268.60" y1="376.87" x2="271.20" y2="376.87" stroke="#000" stroke-width="0.8" />
<line x1="268.60" y1="375.18" x2="271.20" y2="375.18" stroke="#000" stroke-width="0.8" />
<line x1="268.60" y1="373.68" x2="271.20" y2="373.68" stroke="#000" stroke-width="0.8" />
<line x1="271.20" y1="401.60" x2="271.20" y2="404.60" stroke="#000" stroke-width="1.1" />
<text transform="translate(271.10 412.10) rotate(-45)" font-size="8.4" text-anchor="end" stroke="#000" stroke-width="0.25">0.0000</text>
<line x1="298.24" y1="401.60" x2="298.24" y2="404.60" stroke="#000" stroke-width="1.1" />
<text transform="translate(298.14 412.10) rotate(-45)" font-size="8.4" text-anchor="end" stroke="#000" stroke-width="0.25">0.0002</text>
<line x1="325.28" y1="401.60" x2="325.28" y2="404.60" stroke="#000" stroke-width="1.1" />
<text transform="translate(325.18 412.10) rotate(-45)" font-size="8.4" text-anchor="end" stroke="#000" stroke-width="0.25">0.0004</text>
<line x1="352.32" y1="401.60" x2="352.32" y2="404.60" stroke="#000" stroke-width="1.1" />
<text transform="translate(352.22 412.10) rotate(-45)" font-size="8.4" text-anchor="end" stroke="#000" stroke-width="0.25">0.0006</text>
<line x1="379.36" y1="401.60" x2="379.36" y2="404.60" stroke="#000" stroke-width="1.1" />
<text transform="translate(379.26 412.10) rotate(-45)" font-size="8.4" text-anchor="end" stroke="#000" stroke-width="0.25">0.0008</text>
<line x1="406.40" y1="401.60" x2="406.40" y2="404.60" stroke="#000" stroke-width="1.1" />
<text transform="translate(406.30 412.10) rotate(-45)" font-size="8.4" text-anchor="end" stroke="#000" stroke-width="0.25">0.0010</text>
<line x1="284.72" y1="401.60" x2="284.72" y2="403.80" stroke="#000" stroke-width="0.8" />
<line x1="311.76" y1="401.60" x2="311.76" y2="403.80" stroke="#000" stroke-width="0.8" />
<line x1="338.80" y1="401.60" x2="338.80" y2="403.80" stroke="#000" stroke-width="0.8" />
<line x1="365.84" y1="401.60" x2="365.84" y2="403.80" stroke="#000" stroke-width="0.8" />
<line x1="392.88" y1="401.60" x2="392.88" y2="403.80" stroke="#000" stroke-width="0.8" />
<polyline points="271.2,313.8 279.8,315.4 288.3,321.6 305.1,326.8 339.0,346.8 406.4,368.4" fill="none" stroke="#000" stroke-width="1.9" stroke-dasharray="4 2"/>
<polyline points="271.2,313.8 279.8,315.8 288.3,322.4 305.1,332.0 339.0,347.2 406.4,367.2" fill="none" stroke="#000" stroke-width="1.9" stroke-dasharray="4 2"/>
<rect x="268.2" y="310.8" width="6" height="6" fill="#fff" stroke="#000" stroke-width="1.5"/>
<rect x="276.8" y="312.4" width="6" height="6" fill="#fff" stroke="#000" stroke-width="1.5"/>
<rect x="285.3" y="318.6" width="6" height="6" fill="#fff" stroke="#000" stroke-width="1.5"/>
<rect x="302.1" y="323.8" width="6" height="6" fill="#fff" stroke="#000" stroke-width="1.5"/>
<rect x="336.0" y="343.8" width="6" height="6" fill="#fff" stroke="#000" stroke-width="1.5"/>
<rect x="403.4" y="365.4" width="6" height="6" fill="#fff" stroke="#000" stroke-width="1.5"/>
<circle cx="271.2" cy="313.8" r="3.2" fill="#fff" fill-opacity="0.6" stroke="#000" stroke-width="1.5"/>
<circle cx="279.8" cy="315.8" r="3.2" fill="#fff" fill-opacity="0.6" stroke="#000" stroke-width="1.5"/>
<circle cx="288.3" cy="322.4" r="3.2" fill="#fff" fill-opacity="0.6" stroke="#000" stroke-width="1.5"/>
<circle cx="305.1" cy="332.0" r="3.2" fill="#fff" fill-opacity="0.6" stroke="#000" stroke-width="1.5"/>
<circle cx="339.0" cy="347.2" r="3.2" fill="#fff" fill-opacity="0.6" stroke="#000" stroke-width="1.5"/>
<circle cx="406.4" cy="367.2" r="3.2" fill="#fff" fill-opacity="0.6" stroke="#000" stroke-width="1.5"/>
<text x="414.00" y="367.30" font-size="10" text-anchor="start" >0</text>
<text x="411.00" y="380.60" font-size="10" text-anchor="start" >10</text>
<text x="287.8" y="397.2" font-size="10"><tspan font-style="italic">PARP1-/-</tspan> + Olaparib (µmol/L)</text>
<text x="329.50" y="439.30" font-size="10" text-anchor="middle" >MMS (%)</text>
<text transform="translate(254.00 379.60) rotate(-90)" font-size="10" text-anchor="start" >% Viability</text>
<text x="20.30" y="465.20" font-size="17" text-anchor="start" font-weight="bold">D</text>
<text x="186.40" y="463.20" font-size="10" text-anchor="middle" >Wild-type</text>
<line x1="80.00" y1="466.60" x2="279.20" y2="466.60" stroke="#000" stroke-width="1.5" />
<text x="329.2" y="463.8" font-size="10" font-style="italic">PARP1<tspan dy="-3.8" font-size="7">-/-</tspan></text>
<line x1="295.50" y1="466.60" x2="394.20" y2="466.60" stroke="#000" stroke-width="1.5" />
<line x1="54.60" y1="497.00" x2="54.60" y2="713.40" stroke="#000" stroke-width="1.3" />
<path d="M51.4,500.8 L54.6,496.4 L57.8,500.8" fill="none" stroke="#000" stroke-width="1.2"/>
<line x1="82.60" y1="732.50" x2="389.00" y2="732.50" stroke="#000" stroke-width="1.4" />
<path d="M385,728.6 L389.6,732.5 L385,736.4" fill="none" stroke="#000" stroke-width="1.2"/>
<text transform="translate(50.60 626.40) rotate(-90)" font-size="10.3" text-anchor="start" >BrdUrd uptake</text>
<text x="231.80" y="747.30" font-size="10.3" text-anchor="middle" >PI (DNA content)</text>
<g transform="translate(80.2 482.5)">
<rect x="0" y="0" width="97.0" height="58.8" fill="#fff"/>
<polygon points="29.5,16.4 45.8,3.3 68.3,3.7 83.2,18.3 83.2,26.5 56.0,31.0 29.5,34.5" fill="none" stroke="#333" stroke-width="0.95"/>
<polygon points="29.5,34.8 43.8,34.2 44.8,49.5 36.8,52.3 30.6,47.5" fill="none" stroke="#333" stroke-width="0.95"/>
<polygon points="68.3,28.7 83.2,26.5 84.0,41.5 71.3,42.0 68.3,36.3" fill="none" stroke="#333" stroke-width="0.95"/>
<path d="M0,16.6 H29.5 V58.8" fill="none" stroke="#333" stroke-width="0.95"/>
</g>
<path d="M82,514h1M82,522h1M82,526h1M82,527h1M82,528h1M82,536h1M82,538h1M83,498h1M83,515h1M83,523h1M83,525h1M83,526h1M83,530h1M83,533h1M83,537h1M84,496h1M84,508h1M84,523h1M84,525h1M84,533h1M84,537h1M85,504h1M85,517h1M85,518h1M85,521h1M85,528h1M85,532h1M85,533h1M86,514h1M86,515h1M86,518h1M86,519h1M86,522h1M86,525h1M86,527h1M86,529h1M86,533h1M86,535h1M86,536h1M86,538h1M87,499h1M87,514h1M87,522h1M87,526h1M87,530h1M87,539h1M88,522h1M88,525h1M88,528h1M88,529h1M88,530h1M88,533h1M89,507h1M89,517h1M89,519h1M89,521h1M89,524h1M89,526h1M89,527h1M89,529h1M89,539h1M90,521h1M90,524h1M90,529h1M90,531h1M91,516h1M91,526h1M91,527h1M91,535h1M91,536h1M92,500h1M92,514h1M92,516h1M92,520h1M92,521h1M92,528h1M92,531h1M92,537h1M93,506h1M93,514h1M93,520h1M93,524h1M93,535h1M93,537h1M94,495h1M94,508h1M94,513h1M94,521h1M94,524h1M94,525h1M94,531h1M94,533h1M94,534h1M95,503h1M95,517h1M95,524h1M95,532h1M96,525h1M96,528h1M96,535h1M97,498h1M97,512h1M97,513h1M97,527h1M98,517h1M99,498h1M99,499h1M99,523h1M99,531h1M100,496h1M101,495h1M101,498h1M101,511h1M101,537h1M102,507h1M102,524h1M103,517h1M104,512h1M104,522h1M104,534h1M105,499h1M105,502h1M106,505h1M107,506h1M107,508h1M108,538h1M110,527h1M111,504h1M111,505h1M111,512h1M111,513h1M113,513h1M114,502h1M114,516h1M116,506h1M120,491h1M121,511h1M122,509h1M123,520h1M124,512h1M124,518h1M125,484h1M125,527h1M126,515h1M126,523h1M127,505h1M128,512h1M128,520h1M128,526h1M128,527h1M130,489h1M130,505h1M130,515h1M130,523h1M130,528h1M131,502h1M131,519h1M132,505h1M132,507h1M132,531h1M134,502h1M135,522h1M136,513h1M137,508h1M137,510h1M139,509h1M142,505h1M142,508h1M142,517h1M142,526h1M143,523h1M143,528h1M146,492h1M146,506h1M146,526h1M146,536h1M147,527h1M148,491h1M148,516h1M148,523h1M150,523h1M154,491h1M155,522h1M156,503h1M156,524h1M158,505h1M159,496h1M159,498h1M159,502h1M159,503h1M159,504h1M159,506h1M160,497h1M161,519h1M161,527h1M162,499h1M162,513h1M162,524h1M163,504h1M163,506h1M163,512h1M164,491h1M164,496h1M164,506h1M164,514h1M165,491h1M165,494h1M165,496h1M165,506h1M165,539h1M166,496h1M166,498h1M166,500h1M166,501h1M166,506h1M166,516h1M167,487h1M167,494h1M167,501h1M167,530h1M167,534h1M168,496h1M168,497h1M168,498h1M168,503h1M168,504h1M168,506h1M168,507h1M168,508h1M169,496h1M169,499h1M169,500h1M169,503h1M169,505h1M169,506h1M169,507h1M170,495h1M170,504h1M171,493h1M171,500h1M171,502h1M171,505h1M172,485h1M172,493h1M172,494h1M172,495h1M172,506h1M172,507h1M172,529h1M173,495h1M173,503h1M174,494h1M174,497h1M175,490h1M175,500h1M175,501h1M175,505h1" stroke="#000" stroke-width="1" fill="none" transform="translate(0 0.5)" filter="url(#bd)" opacity="0.42"/>
<path d="M115,502h1M115,515h1M116,502h1M116,505h1M116,507h1M116,512h1M116,514h1M116,515h1M117,502h1M117,503h1M117,506h1M117,507h1M117,508h1M117,511h1M117,513h1M117,515h1M117,517h1M118,497h1M118,501h1M118,502h1M118,504h1M118,505h1M118,506h1M118,507h1M118,509h1M118,510h1M118,511h1M118,512h1M118,514h1M118,515h1M118,516h1M119,498h1M119,499h1M119,501h1M119,502h1M119,503h1M119,504h1M119,505h1M119,506h1M119,507h1M119,508h1M119,509h1M119,510h1M119,511h1M119,512h1M119,513h1M119,514h1M119,515h1M120,499h1M120,500h1M120,501h1M120,502h1M120,503h1M120,504h1M120,505h1M120,506h1M120,507h1M120,508h1M120,509h1M120,510h1M120,511h1M120,512h1M120,514h1M120,515h1M120,517h1M121,497h1M121,499h1M121,500h1M121,501h1M121,502h1M121,503h1M121,504h1M121,505h1M121,506h1M121,507h1M121,508h1M121,509h1M121,510h1M121,513h1M122,497h1M122,498h1M122,499h1M122,500h1M122,501h1M122,502h1M122,503h1M122,504h1M122,505h1M122,506h1M122,507h1M122,511h1M123,494h1M123,496h1M123,497h1M123,498h1M123,499h1M123,500h1M123,501h1M123,502h1M123,503h1M123,504h1M123,505h1M124,495h1M124,496h1M124,497h1M124,498h1M124,499h1M124,500h1M124,501h1M124,502h1M124,503h1M124,504h1M125,497h1M125,498h1M125,499h1M125,500h1M125,501h1M125,502h1M125,504h1M126,493h1M126,496h1M126,497h1M126,498h1M126,499h1M126,500h1M126,501h1M126,502h1M127,494h1M127,495h1M127,496h1M127,497h1M127,498h1M127,499h1M127,500h1M127,501h1M128,494h1M128,495h1M128,496h1M128,497h1M128,498h1M128,499h1M128,501h1M128,502h1M129,495h1M129,496h1M129,497h1M129,498h1M129,499h1M129,501h1M129,502h1M130,493h1M130,496h1M130,497h1M130,498h1M130,499h1M130,501h1M131,495h1M131,496h1M131,497h1M131,498h1M131,499h1M132,493h1M132,494h1M132,495h1M132,496h1M132,497h1M132,498h1M132,499h1M133,494h1M133,495h1M133,496h1M133,497h1M133,498h1M133,499h1M133,500h1M133,501h1M133,502h1M134,494h1M134,496h1M134,497h1M134,498h1M134,499h1M135,494h1M135,495h1M135,496h1M135,498h1M135,499h1M135,500h1M135,501h1M136,494h1M136,495h1M136,496h1M136,497h1M136,498h1M136,499h1M136,500h1M137,493h1M137,494h1M137,495h1M137,496h1M137,497h1M137,498h1M137,499h1M137,500h1M137,502h1M138,493h1M138,494h1M138,495h1M138,496h1M138,497h1M138,498h1M138,499h1M138,500h1M139,492h1M139,495h1M139,496h1M139,497h1M139,498h1M139,499h1M139,500h1M139,501h1M139,502h1M139,503h1M140,493h1M140,496h1M140,497h1M140,499h1M140,500h1M140,501h1M140,502h1M141,495h1M141,496h1M141,497h1M141,498h1M141,499h1M141,500h1M141,501h1M142,494h1M142,495h1M142,496h1M142,497h1M142,498h1M142,499h1M142,500h1M142,501h1M143,496h1M143,497h1M143,498h1M143,499h1M143,500h1M143,501h1M144,493h1M144,494h1M144,495h1M144,497h1M144,498h1M144,499h1M144,500h1M144,501h1M144,502h1M144,503h1M144,504h1M145,496h1M145,497h1M145,498h1M145,499h1M145,500h1M145,501h1M145,502h1M146,494h1M146,496h1M146,498h1M146,499h1M146,500h1M146,501h1M146,503h1M147,496h1M147,497h1M147,498h1M147,499h1M147,500h1M147,501h1M147,502h1M147,503h1M147,504h1M148,498h1M148,499h1M148,500h1M148,501h1M148,502h1M148,503h1M148,504h1M148,505h1M148,506h1M149,493h1M149,496h1M149,498h1M149,499h1M149,500h1M149,501h1M149,502h1M149,504h1M149,506h1M149,508h1M149,510h1M150,498h1M150,499h1M150,500h1M150,501h1M150,502h1M150,503h1M150,504h1M150,505h1M150,507h1M151,498h1M151,500h1M151,501h1M151,502h1M151,503h1M151,504h1M151,505h1M151,506h1M151,507h1M151,508h1M152,497h1M152,498h1M152,499h1M152,500h1M152,501h1M152,502h1M152,503h1M152,504h1M152,505h1M152,506h1M152,507h1M152,508h1M153,497h1M153,499h1M153,500h1M153,502h1M153,503h1M153,504h1M153,505h1M153,506h1M153,507h1M153,508h1M154,496h1M154,497h1M154,500h1M154,501h1M154,502h1M154,503h1M154,504h1M154,505h1M154,506h1M154,507h1M154,509h1M155,502h1M155,503h1M155,504h1M155,505h1M155,506h1M156,504h1M156,505h1M156,506h1M156,507h1M156,508h1M157,506h1M157,507h1M158,503h1M159,508h1M159,509h1" stroke="#000" stroke-width="1" fill="none" transform="translate(0 0.5)" filter="url(#bd)" opacity="0.88"/>
<path d="M113,522h1M114,521h1M114,522h1M114,524h1M114,529h1M115,516h1M115,518h1M115,519h1M115,520h1M115,521h1M115,522h1M115,523h1M115,524h1M115,525h1M115,526h1M115,527h1M115,528h1M116,516h1M116,517h1M116,518h1M116,519h1M116,520h1M116,521h1M116,522h1M116,523h1M116,524h1M116,525h1M116,526h1M116,527h1M116,528h1M116,530h1M117,514h1M117,516h1M117,518h1M117,519h1M117,520h1M117,521h1M117,522h1M117,523h1M117,524h1M117,525h1M117,526h1M117,527h1M117,528h1M117,530h1M118,517h1M118,518h1M118,519h1M118,520h1M118,521h1M118,522h1M118,523h1M118,524h1M118,525h1M118,526h1M118,527h1M118,528h1M118,529h1M118,530h1M119,516h1M119,517h1M119,518h1M119,519h1M119,520h1M119,521h1M119,522h1M119,523h1M119,524h1M119,525h1M119,526h1M119,527h1M119,528h1M119,529h1M119,530h1M119,531h1M120,518h1M120,520h1M120,521h1M120,522h1M120,523h1M120,524h1M120,525h1M120,526h1M120,528h1M121,516h1M121,518h1M121,521h1M121,522h1M121,523h1M121,524h1M121,525h1M121,526h1M122,518h1M122,520h1M122,526h1M145,513h1M147,515h1M147,516h1M147,518h1M148,512h1M148,514h1M148,515h1M148,517h1M149,509h1M149,511h1M149,512h1M149,513h1M149,514h1M149,515h1M149,516h1M149,517h1M149,518h1M149,519h1M149,520h1M149,522h1M150,508h1M150,510h1M150,511h1M150,512h1M150,513h1M150,514h1M150,515h1M150,517h1M150,518h1M150,519h1M150,521h1M150,522h1M151,509h1M151,510h1M151,511h1M151,512h1M151,513h1M151,514h1M151,515h1M151,516h1M151,517h1M151,518h1M151,519h1M151,520h1M152,509h1M152,510h1M152,511h1M152,512h1M152,513h1M152,514h1M152,515h1M152,516h1M152,517h1M152,518h1M152,519h1M152,520h1M152,521h1M153,509h1M153,510h1M153,511h1M153,512h1M153,513h1M153,514h1M153,515h1M153,516h1M153,517h1M153,518h1M153,519h1M153,520h1M153,521h1M153,523h1M154,508h1M154,510h1M154,511h1M154,512h1M154,513h1M154,514h1M154,515h1M154,516h1M154,517h1M154,518h1M154,519h1M154,520h1M154,521h1M154,522h1M154,523h1M155,507h1M155,508h1M155,509h1M155,510h1M155,511h1M155,512h1M155,513h1M155,514h1M155,515h1M155,516h1M155,517h1M155,518h1M155,519h1M155,520h1M155,521h1M156,509h1M156,510h1M156,511h1M156,512h1M156,513h1M156,514h1M156,515h1M156,516h1M156,517h1M156,518h1M156,519h1M156,520h1M156,521h1M156,522h1M157,508h1M157,509h1M157,510h1M157,511h1M157,512h1M157,513h1M157,514h1M157,515h1M157,516h1M157,517h1M157,518h1M157,519h1M157,520h1M157,523h1M158,507h1M158,510h1M158,511h1M158,512h1M158,513h1M158,514h1M158,515h1M158,516h1M158,517h1M158,518h1M158,519h1M158,520h1M158,521h1M159,511h1M159,512h1M159,513h1M159,514h1M159,515h1M159,516h1M159,517h1M159,518h1M159,519h1M159,520h1M160,508h1M160,512h1M160,514h1M160,515h1M160,517h1M160,518h1M160,519h1M160,520h1M160,521h1M161,513h1M161,515h1M161,516h1M161,517h1M162,512h1M162,518h1M162,521h1M163,513h1M163,517h1" stroke="#000" stroke-width="1" fill="none" transform="translate(0 0.5)" filter="url(#bd)"/>
<g transform="translate(80.2 482.5)">
<line x1="0" y1="12.0" x2="97.0" y2="12.0" stroke="#000" stroke-width="0.9" stroke-dasharray="1.2 1"/>
<line x1="0" y1="21.8" x2="97.0" y2="21.8" stroke="#000" stroke-width="0.9" stroke-dasharray="1.2 1"/>
<line x1="0" y1="45.8" x2="97.0" y2="45.8" stroke="#000" stroke-width="0.9" stroke-dasharray="1.2 1"/>
<rect x="0" y="0" width="97.0" height="58.8" fill="none" stroke="#333" stroke-width="0.9"/>
<path d="M3.5,58.8v-1.6M10.2,58.8v-1.6M16.9,58.8v-1.6M23.6,58.8v-1.6M30.3,58.8v-1.6M37.0,58.8v-1.6M43.7,58.8v-1.6M50.4,58.8v-1.6M57.1,58.8v-1.6M63.8,58.8v-1.6M70.5,58.8v-1.6M77.2,58.8v-1.6M83.9,58.8v-1.6M90.6,58.8v-1.6M97.3,58.8v-1.6M0,3.0h1.4M0,7.3h1.4M0,11.6h1.4M0,15.9h1.4M0,20.2h1.4M0,24.5h1.4M0,28.8h1.4M0,33.1h1.4M0,37.4h1.4M0,41.7h1.4M0,46.0h1.4M0,50.3h1.4M0,54.6h1.4" stroke="#000" stroke-width="0.7"/>
<text x="29.3" y="9.8" font-size="8.3">59</text>
<text x="11.2" y="53.8" font-size="8.3">2.8</text>
<text x="70" y="55.8" font-size="10">(2 h)</text>
<text x="-3.6" y="14.6" font-size="8" text-anchor="end">10<tspan dy="-3" font-size="5.5">4</tspan></text>
<text x="-3.6" y="24.4" font-size="8" text-anchor="end">5x10<tspan dy="-3" font-size="5.5">3</tspan></text>
<text x="-3.6" y="47.2" font-size="8" text-anchor="end">10<tspan dy="-3" font-size="5.5">3</tspan></text>
</g>
<g transform="translate(296.3 482.5)">
<rect x="0" y="0" width="97.0" height="58.8" fill="#fff"/>
<polygon points="29.5,16.4 45.8,3.3 68.3,3.7 83.2,18.3 83.2,26.5 56.0,31.0 29.5,34.5" fill="none" stroke="#333" stroke-width="0.95"/>
<polygon points="29.5,34.8 43.8,34.2 44.8,49.5 36.8,52.3 30.6,47.5" fill="none" stroke="#333" stroke-width="0.95"/>
<polygon points="68.3,28.7 83.2,26.5 84.0,41.5 71.3,42.0 68.3,36.3" fill="none" stroke="#333" stroke-width="0.95"/>
<path d="M0,16.6 H29.5 V58.8" fill="none" stroke="#333" stroke-width="0.95"/>
</g>
<path d="M297,496h1M297,501h1M297,506h1M297,519h1M297,524h1M297,531h1M298,502h1M298,512h1M298,514h1M298,515h1M298,523h1M298,525h1M298,529h1M298,532h1M298,536h1M298,539h1M299,519h1M299,523h1M299,530h1M300,500h1M300,511h1M300,518h1M300,520h1M300,522h1M300,528h1M300,533h1M300,538h1M301,503h1M301,511h1M301,519h1M301,523h1M301,527h1M301,529h1M301,530h1M301,537h1M302,503h1M302,516h1M302,517h1M302,525h1M302,529h1M302,531h1M302,536h1M303,502h1M303,514h1M303,517h1M303,518h1M303,521h1M303,525h1M303,527h1M303,530h1M303,531h1M304,501h1M304,510h1M304,511h1M304,516h1M304,522h1M304,525h1M304,526h1M304,535h1M305,496h1M305,497h1M305,513h1M305,515h1M305,517h1M305,518h1M305,522h1M305,524h1M305,529h1M305,531h1M306,496h1M306,504h1M306,510h1M306,523h1M306,524h1M306,538h1M307,503h1M307,527h1M307,530h1M308,506h1M308,527h1M308,528h1M308,529h1M308,530h1M308,531h1M308,533h1M308,538h1M309,500h1M309,503h1M309,520h1M309,524h1M309,535h1M310,495h1M310,499h1M310,504h1M310,505h1M310,515h1M310,520h1M310,524h1M310,530h1M310,531h1M310,532h1M311,497h1M311,503h1M311,516h1M311,518h1M311,522h1M311,523h1M311,528h1M311,531h1M311,537h1M312,510h1M312,517h1M312,518h1M312,523h1M312,526h1M312,531h1M312,533h1M313,513h1M313,521h1M313,522h1M313,523h1M313,524h1M313,538h1M314,503h1M314,523h1M314,527h1M314,529h1M314,534h1M314,535h1M315,495h1M315,508h1M315,514h1M315,519h1M315,525h1M315,533h1M316,501h1M316,502h1M316,514h1M316,528h1M316,537h1M316,539h1M317,495h1M317,531h1M317,534h1M318,504h1M318,516h1M320,524h1M321,505h1M321,507h1M322,507h1M322,509h1M322,510h1M322,526h1M322,527h1M323,496h1M323,502h1M323,509h1M323,514h1M323,515h1M323,517h1M323,523h1M324,500h1M324,504h1M324,509h1M325,499h1M325,525h1M325,531h1M326,512h1M327,504h1M327,508h1M327,516h1M327,520h1M328,506h1M329,503h1M330,510h1M332,533h1M333,501h1M334,488h1M336,516h1M336,517h1M337,517h1M338,518h1M339,520h1M340,520h1M341,533h1M342,533h1M343,492h1M343,497h1M343,505h1M343,516h1M343,519h1M343,528h1M344,523h1M345,519h1M345,521h1M347,504h1M347,516h1M347,530h1M348,529h1M349,510h1M350,490h1M350,512h1M350,523h1M351,511h1M351,524h1M352,502h1M352,525h1M353,509h1M353,516h1M354,505h1M354,511h1M354,518h1M354,525h1M355,507h1M355,508h1M355,516h1M355,525h1M356,508h1M356,519h1M356,522h1M356,523h1M357,509h1M358,526h1M359,505h1M359,511h1M359,520h1M360,493h1M360,505h1M360,509h1M362,539h1M363,509h1M365,497h1M367,499h1M367,523h1M369,512h1M371,499h1M371,503h1M371,528h1M372,496h1M372,500h1M373,536h1M374,497h1M374,498h1M374,507h1M374,511h1M374,522h1M374,526h1M375,493h1M375,496h1M375,500h1M375,501h1M375,504h1M376,495h1M376,501h1M376,519h1M376,526h1M377,492h1M377,515h1M377,523h1M378,488h1M378,489h1M378,491h1M378,494h1M378,495h1M378,508h1M378,509h1M378,520h1M379,490h1M379,493h1M379,497h1M379,499h1M379,500h1M379,527h1M380,496h1M380,498h1M380,499h1M380,502h1M380,519h1M381,495h1M381,496h1M381,500h1M382,491h1M382,496h1M382,497h1M382,498h1M382,500h1M382,503h1M383,491h1M383,492h1M383,499h1M383,503h1M384,492h1M384,498h1M384,500h1M384,504h1M384,507h1M384,511h1M385,488h1M385,493h1M385,495h1M385,497h1M385,499h1M385,501h1M385,503h1M385,506h1M386,493h1M386,496h1M387,497h1M387,498h1M387,499h1M387,501h1M387,504h1M387,521h1M389,491h1M389,494h1M389,495h1M389,497h1M389,498h1M389,502h1M389,504h1M390,496h1M390,497h1M390,501h1M390,506h1M390,507h1M390,525h1M390,534h1M391,494h1M391,499h1M391,500h1" stroke="#000" stroke-width="1" fill="none" transform="translate(0 0.5)" filter="url(#bd)" opacity="0.42"/>
<path d="M331,505h1M331,506h1M331,509h1M331,513h1M331,515h1M332,502h1M332,504h1M332,507h1M332,511h1M332,512h1M332,513h1M332,514h1M332,516h1M333,502h1M333,507h1M333,508h1M333,509h1M333,510h1M333,511h1M333,512h1M333,513h1M333,514h1M333,515h1M333,516h1M333,518h1M334,502h1M334,506h1M334,507h1M334,508h1M334,509h1M334,510h1M334,511h1M334,512h1M334,513h1M334,514h1M334,516h1M335,500h1M335,501h1M335,502h1M335,504h1M335,505h1M335,506h1M335,507h1M335,508h1M335,509h1M335,510h1M335,514h1M336,499h1M336,501h1M336,502h1M336,503h1M336,504h1M336,505h1M336,506h1M336,507h1M336,508h1M336,509h1M336,511h1M336,512h1M336,513h1M337,498h1M337,499h1M337,500h1M337,501h1M337,502h1M337,503h1M337,504h1M337,505h1M337,506h1M337,507h1M337,508h1M337,510h1M338,497h1M338,498h1M338,499h1M338,500h1M338,501h1M338,502h1M338,503h1M338,504h1M338,505h1M338,507h1M339,498h1M339,499h1M339,500h1M339,501h1M339,502h1M339,503h1M339,505h1M339,506h1M340,497h1M340,498h1M340,500h1M340,501h1M340,502h1M340,503h1M340,504h1M341,496h1M341,497h1M341,498h1M341,499h1M341,500h1M341,501h1M341,502h1M341,503h1M341,504h1M342,495h1M342,496h1M342,498h1M342,499h1M342,500h1M342,501h1M342,502h1M342,507h1M343,496h1M343,498h1M343,499h1M343,500h1M343,501h1M343,502h1M343,503h1M343,504h1M344,497h1M344,498h1M344,499h1M344,500h1M344,501h1M344,502h1M345,495h1M345,497h1M345,498h1M345,499h1M345,500h1M345,501h1M345,502h1M345,503h1M346,498h1M346,499h1M346,500h1M346,501h1M346,502h1M346,503h1M346,504h1M347,495h1M347,496h1M347,497h1M347,498h1M347,499h1M347,500h1M347,501h1M347,502h1M347,503h1M348,496h1M348,497h1M348,498h1M348,499h1M348,500h1M348,501h1M348,502h1M348,503h1M349,497h1M349,498h1M349,499h1M349,500h1M349,501h1M349,502h1M350,495h1M350,497h1M350,498h1M350,499h1M350,500h1M350,501h1M350,502h1M350,503h1M351,496h1M351,497h1M351,498h1M351,499h1M351,500h1M351,501h1M352,496h1M352,497h1M352,498h1M352,499h1M352,500h1M352,501h1M353,495h1M353,497h1M353,498h1M353,499h1M353,500h1M353,501h1M353,502h1M354,496h1M354,497h1M354,498h1M354,499h1M354,500h1M354,501h1M354,502h1M354,503h1M355,496h1M355,498h1M355,500h1M355,502h1M355,503h1M355,504h1M356,496h1M356,497h1M356,498h1M356,499h1M356,500h1M356,501h1M356,502h1M356,503h1M356,504h1M357,495h1M357,496h1M357,497h1M357,498h1M357,499h1M357,500h1M357,501h1M357,502h1M357,504h1M358,493h1M358,497h1M358,498h1M358,499h1M358,500h1M358,501h1M358,502h1M358,504h1M359,497h1M359,498h1M359,499h1M359,500h1M359,501h1M359,502h1M359,504h1M360,497h1M360,498h1M360,499h1M360,500h1M360,501h1M360,502h1M360,503h1M361,497h1M361,499h1M361,500h1M361,501h1M361,502h1M361,503h1M361,504h1M362,497h1M362,498h1M362,499h1M362,500h1M362,501h1M362,502h1M362,503h1M362,504h1M362,506h1M363,497h1M363,498h1M363,501h1M363,502h1M363,503h1M363,504h1M363,505h1M364,498h1M364,499h1M364,500h1M364,501h1M364,502h1M364,503h1M364,504h1M364,508h1M365,499h1M365,500h1M365,501h1M365,502h1M365,503h1M365,504h1M365,505h1M365,506h1M365,507h1M365,510h1M366,500h1M366,501h1M366,502h1M366,503h1M366,504h1M366,505h1M366,506h1M366,507h1M366,508h1M367,501h1M367,503h1M367,504h1M367,505h1M367,506h1M367,508h1M368,502h1M368,503h1M368,504h1M368,505h1M368,506h1M368,507h1M368,508h1M369,499h1M369,501h1M369,502h1M369,504h1M369,505h1M369,506h1M369,507h1M369,509h1M370,504h1M370,505h1M370,506h1M370,507h1M370,508h1M370,509h1M371,500h1M371,505h1M371,506h1M371,507h1M371,509h1M372,504h1M372,505h1M372,507h1M372,508h1M372,509h1M373,504h1M373,509h1M374,510h1M375,508h1" stroke="#000" stroke-width="1" fill="none" transform="translate(0 0.5)" filter="url(#bd)" opacity="0.88"/>
<path d="M328,522h1M328,527h1M329,518h1M329,524h1M329,525h1M329,526h1M329,527h1M329,528h1M329,530h1M330,519h1M330,521h1M330,522h1M330,523h1M330,524h1M330,525h1M330,527h1M330,528h1M330,529h1M331,519h1M331,520h1M331,521h1M331,522h1M331,523h1M331,524h1M331,525h1M331,526h1M331,527h1M331,528h1M332,515h1M332,517h1M332,518h1M332,519h1M332,520h1M332,521h1M332,522h1M332,523h1M332,524h1M332,525h1M332,526h1M332,527h1M332,528h1M332,529h1M333,517h1M333,519h1M333,520h1M333,521h1M333,522h1M333,523h1M333,524h1M333,525h1M333,526h1M333,527h1M333,528h1M333,529h1M333,531h1M333,532h1M334,515h1M334,517h1M334,518h1M334,519h1M334,520h1M334,521h1M334,522h1M334,523h1M334,524h1M334,525h1M334,526h1M334,527h1M334,528h1M334,529h1M334,530h1M334,531h1M335,515h1M335,517h1M335,518h1M335,519h1M335,520h1M335,521h1M335,522h1M335,523h1M335,524h1M335,525h1M335,526h1M335,528h1M336,518h1M336,519h1M336,520h1M336,521h1M336,522h1M336,524h1M336,525h1M336,526h1M336,527h1M336,528h1M336,531h1M337,522h1M337,526h1M338,528h1M359,514h1M359,518h1M360,517h1M360,519h1M361,510h1M361,514h1M361,516h1M361,517h1M361,518h1M361,519h1M361,520h1M362,513h1M362,514h1M362,517h1M362,518h1M362,519h1M362,520h1M362,521h1M363,513h1M363,514h1M363,515h1M363,516h1M363,517h1M363,518h1M363,520h1M363,521h1M364,505h1M364,510h1M364,511h1M364,512h1M364,513h1M364,514h1M364,515h1M364,516h1M364,517h1M364,518h1M364,519h1M364,520h1M364,521h1M364,522h1M364,523h1M364,524h1M365,511h1M365,513h1M365,514h1M365,515h1M365,516h1M365,517h1M365,518h1M365,519h1M365,520h1M365,521h1M365,522h1M366,509h1M366,510h1M366,511h1M366,512h1M366,513h1M366,514h1M366,515h1M366,516h1M366,517h1M366,518h1M366,519h1M366,520h1M366,521h1M366,522h1M366,525h1M366,526h1M367,507h1M367,509h1M367,511h1M367,512h1M367,513h1M367,514h1M367,515h1M367,516h1M367,517h1M367,518h1M367,519h1M367,520h1M367,521h1M367,522h1M367,524h1M367,525h1M368,509h1M368,510h1M368,511h1M368,512h1M368,513h1M368,514h1M368,515h1M368,516h1M368,517h1M368,518h1M368,519h1M368,520h1M368,521h1M368,522h1M369,508h1M369,510h1M369,511h1M369,513h1M369,514h1M369,515h1M369,516h1M369,517h1M369,518h1M369,519h1M369,520h1M369,521h1M369,522h1M369,523h1M370,510h1M370,511h1M370,512h1M370,513h1M370,514h1M370,515h1M370,516h1M370,517h1M370,518h1M370,519h1M370,520h1M370,522h1M371,508h1M371,510h1M371,511h1M371,512h1M371,513h1M371,514h1M371,515h1M371,516h1M371,517h1M371,518h1M371,519h1M371,520h1M372,510h1M372,511h1M372,512h1M372,513h1M372,514h1M372,515h1M372,516h1M372,517h1M372,518h1M372,519h1M372,520h1M372,522h1M373,510h1M373,511h1M373,512h1M373,513h1M373,514h1M373,515h1M373,516h1M373,517h1M373,518h1M373,519h1M373,520h1M373,521h1M373,522h1M373,524h1M374,512h1M374,513h1M374,514h1M374,515h1M374,516h1M374,517h1M374,518h1M374,519h1M375,511h1M375,512h1M375,515h1M375,516h1M375,518h1M375,519h1M376,510h1M376,512h1M376,513h1M376,514h1M376,516h1M376,517h1M376,520h1M376,524h1M377,516h1M377,517h1M378,515h1" stroke="#000" stroke-width="1" fill="none" transform="translate(0 0.5)" filter="url(#bd)"/>
<g transform="translate(296.3 482.5)">
<line x1="0" y1="12.0" x2="97.0" y2="12.0" stroke="#000" stroke-width="0.9" stroke-dasharray="1.2 1"/>
<line x1="0" y1="21.8" x2="97.0" y2="21.8" stroke="#000" stroke-width="0.9" stroke-dasharray="1.2 1"/>
<line x1="0" y1="45.8" x2="97.0" y2="45.8" stroke="#000" stroke-width="0.9" stroke-dasharray="1.2 1"/>
<rect x="0" y="0" width="97.0" height="58.8" fill="none" stroke="#333" stroke-width="0.9"/>
<path d="M3.5,58.8v-1.6M10.2,58.8v-1.6M16.9,58.8v-1.6M23.6,58.8v-1.6M30.3,58.8v-1.6M37.0,58.8v-1.6M43.7,58.8v-1.6M50.4,58.8v-1.6M57.1,58.8v-1.6M63.8,58.8v-1.6M70.5,58.8v-1.6M77.2,58.8v-1.6M83.9,58.8v-1.6M90.6,58.8v-1.6M97.3,58.8v-1.6M0,3.0h1.4M0,7.3h1.4M0,11.6h1.4M0,15.9h1.4M0,20.2h1.4M0,24.5h1.4M0,28.8h1.4M0,33.1h1.4M0,37.4h1.4M0,41.7h1.4M0,46.0h1.4M0,50.3h1.4M0,54.6h1.4" stroke="#000" stroke-width="0.7"/>
<text x="33.6" y="9.8" font-size="8.3">59</text>
<text x="11.2" y="53.8" font-size="8.3">6.0</text>
<text x="67.6" y="55.8" font-size="10">(2 h)</text>
<text x="99.6" y="14.8" font-size="8">10<tspan dy="-3" font-size="5.5">4</tspan></text>
<text x="99.6" y="24.6" font-size="8">5x10<tspan dy="-3" font-size="5.5">3</tspan></text>
<text x="99.6" y="48.2" font-size="8">10<tspan dy="-3" font-size="5.5">3</tspan></text>
</g>
<g transform="translate(80.2 562.5)">
<rect x="0" y="0" width="97.0" height="58.8" fill="#fff"/>
<polygon points="29.5,16.4 45.8,3.3 68.3,3.7 83.2,18.3 83.2,26.5 56.0,31.0 29.5,34.5" fill="none" stroke="#333" stroke-width="0.95"/>
<polygon points="29.5,34.8 43.8,34.2 44.8,49.5 36.8,52.3 30.6,47.5" fill="none" stroke="#333" stroke-width="0.95"/>
<polygon points="68.3,28.7 83.2,26.5 84.0,41.5 71.3,42.0 68.3,36.3" fill="none" stroke="#333" stroke-width="0.95"/>
<path d="M0,16.6 H29.5 V58.8" fill="none" stroke="#333" stroke-width="0.95"/>
</g>
<path d="M81,603h1M81,606h1M82,603h1M82,608h1M82,611h1M83,592h1M83,600h1M83,606h1M83,607h1M83,608h1M83,610h1M83,615h1M84,576h1M84,579h1M84,587h1M84,600h1M84,605h1M84,609h1M84,614h1M84,615h1M85,575h1M85,591h1M85,593h1M85,594h1M85,610h1M85,614h1M86,576h1M86,578h1M86,584h1M86,612h1M86,614h1M87,581h1M87,588h1M87,594h1M87,602h1M87,610h1M87,616h1M88,599h1M88,600h1M88,606h1M88,611h1M88,617h1M89,582h1M89,597h1M89,600h1M89,601h1M89,607h1M89,609h1M89,613h1M89,618h1M90,578h1M90,580h1M90,592h1M90,600h1M90,601h1M90,606h1M90,612h1M91,579h1M91,581h1M91,604h1M91,607h1M91,608h1M92,576h1M92,587h1M92,595h1M92,606h1M92,613h1M92,616h1M92,618h1M93,583h1M93,604h1M93,605h1M94,579h1M94,582h1M94,591h1M94,592h1M94,604h1M95,599h1M95,605h1M95,609h1M95,611h1M95,616h1M96,577h1M96,580h1M96,583h1M96,595h1M96,598h1M96,612h1M97,596h1M97,597h1M97,601h1M97,615h1M98,580h1M99,618h1M100,596h1M100,611h1M101,589h1M101,597h1M101,602h1M101,606h1M101,617h1M102,603h1M102,607h1M103,577h1M103,578h1M103,608h1M103,610h1M104,574h1M105,597h1M105,607h1M105,616h1M107,581h1M107,589h1M107,599h1M110,582h1M111,586h1M111,600h1M112,583h1M112,585h1M112,599h1M113,591h1M115,588h1M115,610h1M117,616h1M122,570h1M122,592h1M123,606h1M123,608h1M125,612h1M126,593h1M126,596h1M126,598h1M127,588h1M127,593h1M128,595h1M128,600h1M129,586h1M129,608h1M130,591h1M131,608h1M132,603h1M134,594h1M134,598h1M135,569h1M135,597h1M135,600h1M135,605h1M135,606h1M136,590h1M136,596h1M136,602h1M137,596h1M138,592h1M139,569h1M140,568h1M141,601h1M143,603h1M144,597h1M145,602h1M145,610h1M146,605h1M147,599h1M147,602h1M150,578h1M150,586h1M152,583h1M152,602h1M154,585h1M154,606h1M155,602h1M156,616h1M157,579h1M158,586h1M158,606h1M159,572h1M159,578h1M159,580h1M159,581h1M159,583h1M159,584h1M160,572h1M160,584h1M160,586h1M160,587h1M160,601h1M161,571h1M161,585h1M161,607h1M162,578h1M162,580h1M162,587h1M162,589h1M163,585h1M163,599h1M164,572h1M164,574h1M164,578h1M164,588h1M164,606h1M164,615h1M165,571h1M165,574h1M165,577h1M165,588h1M166,576h1M166,585h1M167,577h1M167,580h1M167,581h1M167,584h1M167,586h1M168,571h1M168,578h1M168,580h1M168,581h1M168,586h1M168,591h1M169,572h1M169,578h1M169,584h1M169,585h1M170,571h1M170,574h1M170,580h1M170,581h1M170,585h1M170,587h1M170,607h1M171,571h1M171,572h1M171,573h1M172,566h1M172,576h1M172,578h1M172,585h1M173,576h1M173,577h1M174,583h1M174,597h1M175,572h1M175,573h1" stroke="#000" stroke-width="1" fill="none" transform="translate(0 0.5)" filter="url(#bd)" opacity="0.42"/>
<path d="M113,586h1M115,587h1M116,581h1M116,585h1M116,586h1M116,593h1M116,595h1M116,597h1M117,581h1M117,582h1M117,583h1M117,584h1M117,587h1M117,588h1M117,589h1M117,591h1M117,592h1M117,593h1M117,594h1M117,596h1M117,597h1M118,579h1M118,581h1M118,582h1M118,583h1M118,584h1M118,585h1M118,586h1M118,587h1M118,588h1M118,589h1M118,590h1M118,591h1M118,592h1M118,593h1M118,594h1M118,595h1M119,577h1M119,580h1M119,581h1M119,582h1M119,584h1M119,587h1M119,588h1M119,590h1M119,591h1M119,592h1M119,593h1M119,594h1M119,595h1M119,596h1M119,597h1M120,579h1M120,580h1M120,581h1M120,582h1M120,583h1M120,584h1M120,585h1M120,586h1M120,587h1M120,588h1M120,589h1M120,590h1M120,591h1M120,592h1M120,595h1M121,578h1M121,580h1M121,581h1M121,582h1M121,583h1M121,584h1M121,585h1M121,586h1M121,593h1M122,574h1M122,577h1M122,578h1M122,579h1M122,581h1M122,583h1M122,584h1M122,585h1M122,586h1M122,588h1M123,577h1M123,578h1M123,579h1M123,580h1M123,581h1M123,582h1M123,583h1M123,584h1M123,585h1M124,576h1M124,577h1M124,578h1M124,579h1M124,580h1M124,581h1M124,582h1M124,583h1M124,585h1M124,586h1M125,576h1M125,577h1M125,578h1M125,579h1M125,580h1M125,581h1M125,582h1M125,583h1M125,584h1M125,585h1M125,587h1M126,577h1M126,578h1M126,579h1M126,580h1M126,581h1M126,582h1M126,583h1M126,584h1M126,585h1M127,577h1M127,578h1M127,579h1M127,580h1M127,581h1M127,582h1M127,583h1M127,584h1M128,575h1M128,576h1M128,577h1M128,578h1M128,579h1M128,580h1M128,581h1M128,582h1M128,583h1M128,586h1M129,578h1M129,579h1M129,580h1M129,581h1M129,582h1M129,583h1M129,584h1M129,585h1M130,573h1M130,578h1M130,579h1M130,580h1M130,581h1M130,582h1M130,583h1M130,584h1M130,586h1M131,579h1M131,580h1M131,581h1M131,582h1M131,583h1M131,584h1M131,585h1M132,579h1M132,580h1M132,581h1M132,582h1M132,583h1M132,585h1M132,586h1M133,579h1M133,580h1M133,581h1M133,582h1M133,583h1M133,584h1M133,588h1M134,577h1M134,578h1M134,581h1M134,582h1M134,583h1M134,584h1M134,585h1M134,586h1M134,587h1M135,580h1M135,581h1M135,582h1M135,583h1M135,584h1M135,585h1M135,586h1M135,588h1M136,580h1M136,581h1M136,582h1M136,583h1M136,584h1M136,585h1M136,586h1M136,587h1M136,588h1M137,579h1M137,580h1M137,581h1M137,582h1M137,583h1M137,584h1M137,585h1M137,586h1M138,581h1M138,582h1M138,583h1M138,584h1M138,585h1M138,586h1M138,587h1M139,579h1M139,580h1M139,581h1M139,582h1M139,583h1M139,584h1M139,585h1M139,586h1M139,588h1M139,590h1M140,580h1M140,581h1M140,582h1M140,583h1M140,584h1M140,585h1M140,586h1M140,587h1M140,588h1M141,581h1M141,582h1M141,583h1M141,584h1M141,585h1M141,586h1M141,587h1M141,589h1M141,590h1M142,582h1M142,583h1M142,584h1M142,585h1M142,586h1M142,587h1M142,588h1M142,589h1M143,581h1M143,582h1M143,583h1M143,584h1M143,585h1M143,586h1M143,587h1M143,588h1M143,589h1M143,590h1M144,582h1M144,584h1M144,585h1M144,586h1M144,587h1M144,588h1M144,589h1M144,590h1M144,591h1M144,592h1M144,593h1M145,580h1M145,583h1M145,584h1M145,585h1M145,586h1M145,587h1M145,588h1M145,590h1M145,591h1M145,592h1M145,594h1M146,579h1M146,582h1M146,583h1M146,584h1M146,585h1M146,586h1M146,587h1M146,588h1M146,589h1M146,590h1M146,591h1M147,583h1M147,584h1M147,585h1M147,586h1M147,588h1M147,589h1M148,581h1M148,584h1M148,585h1M148,587h1M148,588h1M148,589h1M148,591h1M149,584h1M149,585h1M149,586h1M149,587h1M149,588h1M149,590h1M150,587h1M150,588h1M151,586h1M152,586h1M153,587h1M154,587h1M154,588h1M155,586h1M156,588h1M158,588h1M158,589h1" stroke="#000" stroke-width="1" fill="none" transform="translate(0 0.5)" filter="url(#bd)" opacity="0.88"/>
<path d="M113,599h1M113,601h1M113,606h1M114,595h1M114,599h1M114,600h1M114,601h1M114,602h1M114,603h1M114,604h1M114,605h1M114,606h1M114,607h1M115,596h1M115,597h1M115,600h1M115,601h1M115,602h1M115,603h1M115,604h1M115,605h1M115,606h1M115,607h1M115,609h1M116,598h1M116,599h1M116,600h1M116,601h1M116,602h1M116,603h1M116,604h1M116,605h1M116,606h1M116,607h1M116,608h1M116,610h1M117,595h1M117,598h1M117,599h1M117,600h1M117,601h1M117,602h1M117,603h1M117,604h1M117,605h1M117,606h1M117,607h1M117,608h1M117,610h1M117,612h1M118,597h1M118,598h1M118,599h1M118,600h1M118,601h1M118,602h1M118,603h1M118,604h1M118,605h1M118,606h1M118,607h1M118,608h1M118,609h1M118,612h1M119,598h1M119,599h1M119,600h1M119,601h1M119,602h1M119,603h1M119,604h1M119,605h1M119,606h1M119,607h1M119,608h1M119,609h1M119,611h1M120,597h1M120,598h1M120,599h1M120,600h1M120,601h1M120,602h1M120,604h1M120,605h1M120,606h1M120,607h1M121,601h1M121,605h1M121,606h1M122,601h1M122,607h1M144,598h1M145,595h1M146,592h1M146,596h1M146,598h1M147,587h1M147,590h1M147,591h1M147,592h1M147,593h1M147,594h1M147,595h1M147,596h1M147,597h1M147,598h1M148,586h1M148,590h1M148,592h1M148,593h1M148,594h1M148,595h1M148,596h1M148,600h1M148,602h1M149,589h1M149,591h1M149,592h1M149,593h1M149,594h1M149,595h1M149,596h1M149,597h1M149,598h1M149,599h1M149,600h1M150,589h1M150,590h1M150,591h1M150,592h1M150,593h1M150,594h1M150,595h1M150,596h1M150,597h1M150,598h1M150,599h1M150,600h1M150,601h1M151,587h1M151,588h1M151,589h1M151,590h1M151,591h1M151,592h1M151,593h1M151,594h1M151,595h1M151,596h1M151,597h1M151,598h1M151,599h1M151,600h1M151,601h1M152,587h1M152,588h1M152,589h1M152,590h1M152,591h1M152,592h1M152,593h1M152,594h1M152,595h1M152,596h1M152,597h1M152,598h1M152,599h1M152,600h1M153,588h1M153,589h1M153,590h1M153,591h1M153,592h1M153,593h1M153,594h1M153,595h1M153,596h1M153,597h1M153,598h1M153,599h1M153,600h1M153,601h1M154,589h1M154,590h1M154,591h1M154,592h1M154,593h1M154,594h1M154,595h1M154,596h1M154,597h1M154,598h1M154,599h1M154,600h1M154,601h1M155,587h1M155,588h1M155,589h1M155,590h1M155,591h1M155,592h1M155,593h1M155,594h1M155,595h1M155,596h1M155,597h1M155,598h1M155,599h1M155,600h1M156,587h1M156,589h1M156,590h1M156,591h1M156,592h1M156,593h1M156,594h1M156,595h1M156,596h1M156,597h1M156,598h1M156,599h1M156,600h1M156,601h1M156,605h1M157,588h1M157,590h1M157,591h1M157,592h1M157,593h1M157,594h1M157,595h1M157,596h1M157,597h1M157,598h1M157,599h1M158,590h1M158,591h1M158,592h1M158,593h1M158,594h1M158,595h1M158,596h1M158,597h1M158,598h1M158,599h1M158,600h1M158,603h1M159,589h1M159,591h1M159,592h1M159,593h1M159,594h1M159,595h1M159,596h1M159,597h1M159,598h1M159,599h1M160,589h1M160,591h1M160,592h1M160,593h1M160,595h1M160,597h1M161,594h1M161,595h1M161,596h1M161,599h1M162,594h1M162,595h1M162,603h1M163,597h1" stroke="#000" stroke-width="1" fill="none" transform="translate(0 0.5)" filter="url(#bd)"/>
<g transform="translate(80.2 562.5)">
<line x1="0" y1="12.0" x2="97.0" y2="12.0" stroke="#000" stroke-width="0.9" stroke-dasharray="1.2 1"/>
<line x1="0" y1="21.8" x2="97.0" y2="21.8" stroke="#000" stroke-width="0.9" stroke-dasharray="1.2 1"/>
<line x1="0" y1="45.8" x2="97.0" y2="45.8" stroke="#000" stroke-width="0.9" stroke-dasharray="1.2 1"/>
<rect x="0" y="0" width="97.0" height="58.8" fill="none" stroke="#333" stroke-width="0.9"/>
<path d="M3.5,58.8v-1.6M10.2,58.8v-1.6M16.9,58.8v-1.6M23.6,58.8v-1.6M30.3,58.8v-1.6M37.0,58.8v-1.6M43.7,58.8v-1.6M50.4,58.8v-1.6M57.1,58.8v-1.6M63.8,58.8v-1.6M70.5,58.8v-1.6M77.2,58.8v-1.6M83.9,58.8v-1.6M90.6,58.8v-1.6M97.3,58.8v-1.6M0,3.0h1.4M0,7.3h1.4M0,11.6h1.4M0,15.9h1.4M0,20.2h1.4M0,24.5h1.4M0,28.8h1.4M0,33.1h1.4M0,37.4h1.4M0,41.7h1.4M0,46.0h1.4M0,50.3h1.4M0,54.6h1.4" stroke="#000" stroke-width="0.7"/>
<text x="28.6" y="9.8" font-size="8.3">59</text>
<text x="10.4" y="53.8" font-size="8.3">3.2</text>
<text x="64.2" y="55.8" font-size="10">(2 h)</text>
<text x="-3.6" y="14.6" font-size="8" text-anchor="end">10<tspan dy="-3" font-size="5.5">4</tspan></text>
<text x="-3.6" y="24.4" font-size="8" text-anchor="end">5x10<tspan dy="-3" font-size="5.5">3</tspan></text>
<text x="-3.6" y="47.2" font-size="8" text-anchor="end">10<tspan dy="-3" font-size="5.5">3</tspan></text>
</g>
<g transform="translate(181.3 562.5)">
<rect x="0" y="0" width="97.0" height="58.8" fill="#fff"/>
<polygon points="29.5,16.4 45.8,3.3 68.3,3.7 83.2,18.3 83.2,26.5 56.0,31.0 29.5,34.5" fill="none" stroke="#333" stroke-width="0.95"/>
<polygon points="29.5,34.8 43.8,34.2 44.8,49.5 36.8,52.3 30.6,47.5" fill="none" stroke="#333" stroke-width="0.95"/>
<polygon points="68.3,28.7 83.2,26.5 84.0,41.5 71.3,42.0 68.3,36.3" fill="none" stroke="#333" stroke-width="0.95"/>
<path d="M0,16.6 H29.5 V58.8" fill="none" stroke="#333" stroke-width="0.95"/>
</g>
<path d="M182,595h1M182,600h1M183,598h1M183,604h1M183,606h1M183,615h1M183,619h1M184,583h1M184,594h1M184,597h1M184,601h1M184,603h1M184,612h1M184,618h1M185,581h1M185,586h1M185,611h1M185,613h1M185,617h1M186,595h1M186,596h1M186,601h1M186,602h1M186,603h1M186,608h1M186,612h1M186,614h1M187,597h1M188,600h1M188,605h1M188,610h1M188,613h1M188,617h1M189,592h1M189,593h1M189,594h1M189,613h1M189,617h1M190,575h1M190,586h1M190,595h1M190,600h1M190,604h1M191,599h1M191,601h1M191,607h1M191,611h1M192,586h1M192,598h1M193,574h1M193,598h1M193,599h1M193,602h1M193,617h1M194,576h1M194,582h1M194,604h1M194,607h1M194,610h1M195,581h1M195,601h1M195,609h1M196,575h1M196,599h1M196,600h1M196,604h1M196,613h1M197,581h1M197,601h1M197,605h1M197,606h1M198,593h1M198,607h1M198,611h1M199,605h1M200,577h1M200,619h1M201,580h1M201,588h1M201,600h1M202,585h1M202,600h1M202,616h1M203,595h1M204,592h1M204,599h1M204,614h1M205,606h1M206,590h1M207,583h1M207,592h1M207,604h1M207,607h1M207,610h1M208,580h1M208,616h1M209,585h1M209,597h1M211,594h1M212,565h1M212,578h1M212,586h1M212,595h1M212,605h1M215,569h1M215,578h1M215,588h1M215,595h1M215,597h1M216,590h1M216,619h1M217,609h1M218,585h1M221,579h1M222,594h1M222,596h1M222,598h1M224,589h1M225,592h1M225,598h1M226,574h1M226,593h1M226,603h1M230,583h1M230,587h1M230,590h1M230,598h1M231,586h1M231,590h1M231,607h1M233,602h1M235,587h1M235,594h1M235,605h1M241,588h1M241,596h1M244,585h1M244,596h1M244,597h1M244,601h1M245,613h1M246,573h1M246,586h1M247,589h1M247,591h1M247,601h1M248,619h1M250,571h1M250,615h1M254,576h1M254,606h1M254,607h1M255,615h1M256,604h1M259,577h1M259,578h1M259,579h1M259,615h1M261,577h1M261,582h1M261,587h1M261,601h1M262,573h1M262,586h1M262,601h1M262,607h1M263,574h1M263,581h1M263,582h1M263,585h1M263,586h1M263,587h1M263,601h1M264,576h1M264,578h1M265,573h1M265,581h1M266,583h1M266,585h1M267,580h1M267,582h1M267,583h1M267,586h1M267,587h1M268,577h1M268,581h1M268,585h1M269,579h1M269,582h1M270,570h1M270,576h1M270,577h1M270,579h1M270,586h1M271,571h1M271,572h1M271,573h1M271,576h1M271,578h1M271,582h1M271,586h1M271,587h1M272,575h1M272,577h1M272,579h1M272,583h1M273,571h1M273,575h1M273,580h1M273,581h1M274,573h1M274,575h1M274,577h1M274,582h1M274,584h1M275,569h1M275,576h1M275,579h1M275,584h1M276,574h1M276,576h1M276,578h1M276,580h1M276,582h1" stroke="#000" stroke-width="1" fill="none" transform="translate(0 0.5)" filter="url(#bd)" opacity="0.42"/>
<path d="M214,584h1M216,581h1M216,583h1M217,595h1M218,579h1M218,581h1M218,582h1M218,583h1M218,587h1M218,593h1M218,594h1M218,595h1M218,596h1M218,598h1M219,580h1M219,581h1M219,582h1M219,583h1M219,584h1M219,585h1M219,586h1M219,587h1M219,588h1M219,589h1M219,590h1M219,591h1M219,592h1M219,593h1M219,594h1M219,595h1M219,596h1M219,597h1M220,579h1M220,581h1M220,582h1M220,583h1M220,584h1M220,586h1M220,587h1M220,588h1M220,589h1M220,590h1M220,591h1M220,592h1M220,593h1M220,594h1M220,595h1M220,596h1M221,578h1M221,580h1M221,581h1M221,582h1M221,583h1M221,584h1M221,585h1M221,586h1M221,587h1M221,588h1M221,589h1M221,590h1M221,591h1M221,592h1M221,593h1M221,594h1M221,595h1M222,575h1M222,576h1M222,577h1M222,578h1M222,579h1M222,580h1M222,581h1M222,582h1M222,583h1M222,584h1M222,585h1M222,586h1M222,587h1M222,589h1M222,590h1M223,576h1M223,578h1M223,579h1M223,580h1M223,581h1M223,583h1M223,584h1M223,585h1M223,586h1M223,587h1M223,588h1M223,589h1M224,576h1M224,577h1M224,578h1M224,579h1M224,581h1M224,582h1M224,583h1M224,584h1M224,588h1M225,574h1M225,575h1M225,576h1M225,577h1M225,578h1M225,579h1M225,580h1M225,582h1M225,583h1M225,585h1M226,575h1M226,576h1M226,577h1M226,578h1M226,579h1M226,580h1M226,581h1M226,582h1M226,583h1M226,584h1M226,585h1M226,589h1M227,572h1M227,574h1M227,575h1M227,576h1M227,577h1M227,578h1M227,580h1M227,581h1M228,574h1M228,575h1M228,576h1M228,577h1M228,578h1M228,579h1M228,580h1M228,581h1M228,582h1M228,586h1M229,575h1M229,576h1M229,577h1M229,578h1M229,579h1M229,580h1M229,582h1M230,574h1M230,575h1M230,576h1M230,577h1M230,578h1M230,579h1M230,581h1M231,572h1M231,574h1M231,576h1M231,577h1M231,578h1M231,579h1M231,580h1M231,581h1M232,573h1M232,574h1M232,575h1M232,576h1M232,577h1M232,578h1M232,579h1M232,580h1M232,581h1M232,582h1M233,575h1M233,576h1M233,577h1M233,578h1M233,579h1M233,580h1M233,581h1M233,582h1M234,573h1M234,574h1M234,575h1M234,576h1M234,577h1M234,578h1M234,579h1M234,580h1M234,581h1M235,574h1M235,575h1M235,576h1M235,577h1M235,578h1M235,579h1M235,580h1M235,581h1M235,582h1M235,583h1M236,573h1M236,575h1M236,576h1M236,577h1M236,578h1M236,579h1M236,580h1M236,582h1M237,576h1M237,577h1M237,578h1M237,579h1M237,581h1M238,575h1M238,576h1M238,577h1M238,578h1M238,579h1M238,580h1M238,584h1M239,572h1M239,574h1M239,575h1M239,576h1M239,577h1M239,578h1M239,579h1M239,580h1M239,581h1M240,574h1M240,576h1M240,577h1M240,578h1M240,579h1M240,580h1M240,582h1M241,576h1M241,577h1M241,578h1M241,579h1M241,582h1M242,573h1M242,574h1M242,575h1M242,576h1M242,577h1M242,578h1M242,579h1M242,580h1M242,581h1M242,582h1M243,575h1M243,576h1M243,577h1M243,578h1M243,579h1M243,580h1M243,581h1M243,582h1M243,583h1M244,573h1M244,574h1M244,576h1M244,577h1M244,578h1M244,579h1M244,580h1M244,581h1M244,582h1M245,571h1M245,574h1M245,575h1M245,576h1M245,577h1M245,578h1M245,579h1M245,581h1M246,575h1M246,576h1M246,577h1M246,578h1M246,579h1M246,580h1M246,581h1M246,583h1M246,584h1M247,572h1M247,574h1M247,575h1M247,576h1M247,577h1M247,578h1M247,579h1M247,580h1M247,581h1M247,582h1M247,583h1M247,584h1M248,575h1M248,577h1M248,578h1M248,579h1M248,580h1M248,581h1M248,582h1M248,584h1M248,585h1M249,576h1M249,577h1M249,578h1M249,579h1M249,580h1M249,581h1M249,582h1M249,583h1M249,584h1M249,586h1M250,577h1M250,579h1M250,580h1M250,581h1M250,582h1M250,584h1M250,585h1M250,588h1M251,577h1M251,578h1M251,579h1M251,580h1M251,581h1M251,582h1M251,583h1M251,584h1M251,585h1M251,588h1M252,577h1M252,578h1M252,580h1M252,581h1M252,582h1M252,583h1M252,584h1M252,585h1M252,586h1M252,587h1M252,588h1M253,574h1M253,577h1M253,579h1M253,580h1M253,581h1M253,582h1M253,583h1M253,584h1M253,585h1M253,586h1M253,587h1M253,589h1M254,577h1M254,578h1M254,579h1M254,581h1M254,582h1M254,583h1M254,584h1M254,585h1M254,586h1M254,587h1M254,588h1M255,579h1M255,581h1M255,582h1M255,584h1M255,585h1M255,586h1M255,587h1M255,588h1M255,589h1M256,581h1M256,582h1M256,583h1M256,584h1M256,585h1M257,581h1M257,584h1M257,585h1M257,586h1M257,587h1M258,579h1M258,585h1M258,586h1M258,587h1M258,588h1M259,585h1M259,588h1M260,585h1" stroke="#000" stroke-width="1" fill="none" transform="translate(0 0.5)" filter="url(#bd)" opacity="0.88"/>
<path d="M213,602h1M214,601h1M214,604h1M214,606h1M215,599h1M215,600h1M215,601h1M215,602h1M215,603h1M215,605h1M215,607h1M215,608h1M216,597h1M216,598h1M216,599h1M216,600h1M216,601h1M216,602h1M216,603h1M216,604h1M216,605h1M216,606h1M216,607h1M216,608h1M216,610h1M217,597h1M217,598h1M217,599h1M217,600h1M217,601h1M217,602h1M217,603h1M217,604h1M217,605h1M217,606h1M217,607h1M217,608h1M217,610h1M218,597h1M218,599h1M218,600h1M218,601h1M218,602h1M218,603h1M218,604h1M218,605h1M218,606h1M218,607h1M218,608h1M218,609h1M218,610h1M219,598h1M219,599h1M219,600h1M219,601h1M219,602h1M219,603h1M219,604h1M219,605h1M219,606h1M219,607h1M219,608h1M219,609h1M219,611h1M220,597h1M220,598h1M220,599h1M220,600h1M220,601h1M220,602h1M220,603h1M220,604h1M220,605h1M220,606h1M220,607h1M220,608h1M220,609h1M220,610h1M221,596h1M221,598h1M221,599h1M221,600h1M221,602h1M221,603h1M221,604h1M221,605h1M221,606h1M221,609h1M222,602h1M222,603h1M222,605h1M222,606h1M222,607h1M222,608h1M222,609h1M223,603h1M223,604h1M223,605h1M247,600h1M248,590h1M248,594h1M248,595h1M248,598h1M249,594h1M249,595h1M249,596h1M249,597h1M249,598h1M249,600h1M249,601h1M250,590h1M250,591h1M250,592h1M250,593h1M250,594h1M250,595h1M250,596h1M250,597h1M250,598h1M251,586h1M251,590h1M251,591h1M251,592h1M251,593h1M251,594h1M251,595h1M251,596h1M251,597h1M251,600h1M251,601h1M252,589h1M252,590h1M252,591h1M252,592h1M252,593h1M252,594h1M252,595h1M252,596h1M252,597h1M252,600h1M252,601h1M253,588h1M253,590h1M253,592h1M253,593h1M253,594h1M253,595h1M253,596h1M253,597h1M253,598h1M253,599h1M253,601h1M254,589h1M254,590h1M254,591h1M254,592h1M254,593h1M254,594h1M254,595h1M254,596h1M254,597h1M254,598h1M254,599h1M254,600h1M254,601h1M254,602h1M255,590h1M255,591h1M255,592h1M255,593h1M255,594h1M255,595h1M255,596h1M255,597h1M255,598h1M255,599h1M255,600h1M255,601h1M255,602h1M256,588h1M256,589h1M256,590h1M256,591h1M256,592h1M256,593h1M256,594h1M256,595h1M256,596h1M256,597h1M256,598h1M256,599h1M256,600h1M256,602h1M256,605h1M257,588h1M257,589h1M257,590h1M257,591h1M257,592h1M257,593h1M257,594h1M257,595h1M257,596h1M257,597h1M257,598h1M257,599h1M257,600h1M257,602h1M258,589h1M258,590h1M258,591h1M258,592h1M258,593h1M258,594h1M258,595h1M258,596h1M258,597h1M258,598h1M258,599h1M258,600h1M259,586h1M259,587h1M259,589h1M259,590h1M259,591h1M259,592h1M259,593h1M259,594h1M259,595h1M259,596h1M259,597h1M259,598h1M259,599h1M259,600h1M259,601h1M259,602h1M259,604h1M260,589h1M260,590h1M260,591h1M260,592h1M260,593h1M260,594h1M260,595h1M260,596h1M260,597h1M260,598h1M260,599h1M261,590h1M261,591h1M261,592h1M261,593h1M261,594h1M261,595h1M261,596h1M261,597h1M261,598h1M261,599h1M261,600h1M262,587h1M262,588h1M262,589h1M262,590h1M262,591h1M262,592h1M262,593h1M262,594h1M262,595h1M262,596h1M262,597h1M262,599h1M263,588h1M263,590h1M263,592h1M263,594h1M263,595h1M263,596h1M263,597h1M263,598h1M263,599h1M263,600h1M264,589h1M264,591h1M264,592h1M264,593h1M264,594h1M264,595h1M264,597h1M264,598h1M265,592h1M265,593h1M265,595h1M265,596h1M265,598h1M268,587h1" stroke="#000" stroke-width="1" fill="none" transform="translate(0 0.5)" filter="url(#bd)"/>
<g transform="translate(181.3 562.5)">
<line x1="0" y1="12.0" x2="97.0" y2="12.0" stroke="#000" stroke-width="0.9" stroke-dasharray="1.2 1"/>
<line x1="0" y1="21.8" x2="97.0" y2="21.8" stroke="#000" stroke-width="0.9" stroke-dasharray="1.2 1"/>
<line x1="0" y1="45.8" x2="97.0" y2="45.8" stroke="#000" stroke-width="0.9" stroke-dasharray="1.2 1"/>
<rect x="0" y="0" width="97.0" height="58.8" fill="none" stroke="#333" stroke-width="0.9"/>
<path d="M3.5,58.8v-1.6M10.2,58.8v-1.6M16.9,58.8v-1.6M23.6,58.8v-1.6M30.3,58.8v-1.6M37.0,58.8v-1.6M43.7,58.8v-1.6M50.4,58.8v-1.6M57.1,58.8v-1.6M63.8,58.8v-1.6M70.5,58.8v-1.6M77.2,58.8v-1.6M83.9,58.8v-1.6M90.6,58.8v-1.6M97.3,58.8v-1.6M0,3.0h1.4M0,7.3h1.4M0,11.6h1.4M0,15.9h1.4M0,20.2h1.4M0,24.5h1.4M0,28.8h1.4M0,33.1h1.4M0,37.4h1.4M0,41.7h1.4M0,46.0h1.4M0,50.3h1.4M0,54.6h1.4" stroke="#000" stroke-width="0.7"/>
<text x="29.3" y="9.8" font-size="8.3">60</text>
<text x="11.2" y="53.8" font-size="8.3">2.5</text>
<text x="68" y="55.8" font-size="10">(2 h)</text>
</g>
<g transform="translate(296.3 562.5)">
<rect x="0" y="0" width="97.0" height="58.8" fill="#fff"/>
<polygon points="29.5,16.4 45.8,3.3 68.3,3.7 83.2,18.3 83.2,26.5 56.0,31.0 29.5,34.5" fill="none" stroke="#333" stroke-width="0.95"/>
<polygon points="29.5,34.8 43.8,34.2 44.8,49.5 36.8,52.3 30.6,47.5" fill="none" stroke="#333" stroke-width="0.95"/>
<polygon points="68.3,28.7 83.2,26.5 84.0,41.5 71.3,42.0 68.3,36.3" fill="none" stroke="#333" stroke-width="0.95"/>
<path d="M0,16.6 H29.5 V58.8" fill="none" stroke="#333" stroke-width="0.95"/>
</g>
<path d="M297,598h1M298,584h1M298,590h1M298,593h1M298,604h1M298,605h1M298,608h1M299,598h1M299,600h1M299,601h1M299,608h1M299,610h1M299,611h1M299,612h1M300,579h1M300,588h1M300,592h1M300,605h1M300,608h1M300,611h1M300,614h1M301,575h1M301,583h1M301,588h1M301,589h1M301,597h1M301,606h1M301,611h1M302,586h1M302,589h1M302,591h1M302,594h1M302,596h1M302,597h1M302,598h1M302,599h1M302,600h1M302,601h1M302,605h1M302,617h1M303,590h1M303,600h1M303,603h1M304,577h1M304,580h1M304,589h1M304,591h1M304,596h1M304,599h1M304,603h1M304,605h1M304,606h1M305,581h1M305,589h1M305,593h1M305,595h1M305,596h1M305,599h1M305,600h1M305,602h1M305,603h1M305,604h1M305,605h1M305,610h1M306,586h1M306,603h1M306,605h1M306,606h1M307,575h1M307,596h1M307,606h1M307,607h1M307,610h1M308,588h1M308,591h1M308,593h1M308,604h1M308,610h1M308,614h1M308,619h1M309,576h1M309,591h1M309,603h1M309,605h1M309,608h1M310,584h1M310,595h1M310,597h1M310,599h1M310,602h1M310,605h1M310,615h1M311,581h1M311,592h1M311,593h1M311,596h1M311,597h1M311,600h1M311,601h1M311,604h1M311,607h1M311,617h1M312,598h1M312,602h1M312,604h1M312,606h1M312,609h1M312,616h1M313,579h1M313,599h1M313,604h1M313,616h1M314,579h1M314,602h1M314,604h1M314,613h1M314,614h1M315,576h1M315,581h1M315,586h1M315,589h1M315,595h1M315,600h1M315,610h1M316,582h1M316,583h1M316,594h1M316,608h1M316,612h1M316,615h1M317,603h1M317,606h1M317,616h1M318,580h1M318,599h1M318,603h1M319,580h1M319,603h1M320,588h1M320,598h1M320,603h1M320,615h1M321,574h1M321,582h1M321,593h1M321,597h1M321,598h1M321,612h1M322,577h1M322,579h1M322,590h1M322,597h1M322,606h1M322,609h1M323,605h1M323,607h1M323,609h1M324,574h1M324,575h1M324,579h1M324,597h1M327,589h1M327,595h1M328,577h1M328,596h1M329,569h1M329,581h1M329,590h1M329,597h1M330,565h1M330,587h1M330,591h1M330,592h1M330,594h1M332,579h1M332,592h1M335,616h1M337,599h1M338,605h1M339,568h1M341,607h1M342,589h1M342,598h1M342,600h1M342,608h1M343,587h1M343,600h1M344,606h1M346,591h1M346,598h1M346,601h1M349,583h1M350,591h1M350,593h1M350,594h1M350,608h1M350,614h1M351,589h1M351,597h1M352,587h1M354,585h1M354,587h1M354,596h1M354,606h1M355,588h1M355,592h1M355,605h1M356,583h1M356,594h1M356,596h1M356,604h1M356,605h1M356,607h1M357,594h1M357,617h1M358,605h1M359,607h1M360,588h1M360,591h1M360,606h1M360,614h1M361,589h1M361,594h1M361,603h1M361,604h1M361,606h1M363,592h1M369,606h1M370,607h1M370,610h1M371,576h1M372,569h1M372,605h1M373,602h1M373,605h1M373,606h1M374,571h1M374,573h1M375,583h1M376,574h1M376,579h1M376,585h1M377,571h1M377,573h1M377,575h1M377,581h1M377,582h1M378,577h1M378,581h1M378,584h1M378,585h1M378,592h1M379,570h1M379,574h1M379,580h1M379,581h1M379,583h1M379,584h1M379,585h1M379,598h1M379,599h1M380,570h1M380,575h1M380,576h1M380,577h1M380,578h1M380,581h1M380,582h1M380,584h1M380,600h1M380,603h1M381,570h1M381,573h1M381,575h1M381,577h1M381,579h1M381,585h1M381,587h1M382,566h1M382,568h1M382,570h1M382,571h1M382,572h1M382,573h1M382,576h1M382,578h1M382,582h1M382,583h1M382,596h1M383,573h1M383,575h1M383,577h1M383,578h1M383,581h1M383,585h1M384,567h1M384,571h1M384,575h1M384,578h1M384,582h1M384,584h1M384,587h1M384,605h1M385,575h1M385,576h1M385,579h1M385,583h1M386,575h1M386,578h1M386,580h1M387,575h1M387,576h1M387,577h1M387,578h1M387,579h1M387,582h1M387,585h1M387,588h1M388,575h1M388,576h1M388,580h1M388,582h1M388,586h1M389,569h1M389,572h1M389,577h1M389,580h1M389,584h1M390,568h1M390,572h1M390,574h1M390,575h1M390,579h1M390,580h1M390,581h1M391,574h1M391,578h1" stroke="#000" stroke-width="1" fill="none" transform="translate(0 0.5)" filter="url(#bd)" opacity="0.42"/>
<path d="M330,588h1M331,582h1M331,592h1M332,583h1M332,584h1M332,589h1M332,596h1M332,598h1M333,582h1M333,585h1M333,586h1M333,588h1M333,590h1M333,591h1M333,592h1M333,593h1M333,594h1M333,595h1M333,596h1M333,598h1M334,577h1M334,580h1M334,582h1M334,585h1M334,586h1M334,588h1M334,589h1M334,590h1M334,591h1M334,592h1M334,593h1M334,594h1M334,595h1M334,596h1M335,579h1M335,580h1M335,581h1M335,582h1M335,584h1M335,586h1M335,587h1M335,588h1M335,589h1M335,590h1M335,591h1M335,592h1M335,593h1M335,594h1M335,595h1M335,597h1M336,576h1M336,579h1M336,580h1M336,581h1M336,582h1M336,583h1M336,584h1M336,586h1M336,587h1M336,588h1M336,589h1M336,590h1M336,591h1M336,592h1M336,593h1M336,594h1M336,596h1M337,578h1M337,579h1M337,580h1M337,581h1M337,582h1M337,583h1M337,584h1M337,585h1M337,586h1M337,587h1M337,588h1M337,589h1M337,590h1M337,591h1M337,593h1M338,579h1M338,581h1M338,582h1M338,583h1M338,584h1M338,585h1M338,586h1M338,587h1M338,588h1M338,589h1M339,576h1M339,577h1M339,578h1M339,579h1M339,580h1M339,581h1M339,582h1M339,583h1M339,584h1M339,586h1M339,589h1M340,578h1M340,579h1M340,580h1M340,581h1M340,582h1M340,583h1M340,584h1M340,585h1M340,590h1M341,577h1M341,578h1M341,579h1M341,580h1M341,581h1M341,582h1M341,583h1M341,584h1M341,586h1M341,587h1M342,575h1M342,576h1M342,577h1M342,578h1M342,579h1M342,580h1M342,581h1M342,582h1M342,583h1M342,585h1M342,588h1M343,575h1M343,578h1M343,579h1M343,580h1M343,581h1M343,582h1M343,583h1M344,577h1M344,578h1M344,579h1M344,580h1M344,581h1M344,582h1M345,577h1M345,578h1M345,579h1M345,580h1M345,581h1M345,583h1M346,576h1M346,577h1M346,578h1M346,579h1M346,580h1M346,581h1M346,582h1M346,583h1M347,576h1M347,577h1M347,578h1M347,580h1M347,581h1M347,582h1M347,583h1M348,576h1M348,577h1M348,578h1M348,580h1M348,581h1M348,583h1M349,576h1M349,577h1M349,578h1M349,579h1M349,580h1M349,581h1M349,582h1M349,584h1M350,576h1M350,577h1M350,578h1M350,579h1M350,580h1M350,581h1M350,582h1M350,585h1M351,574h1M351,576h1M351,577h1M351,578h1M351,579h1M351,580h1M351,581h1M351,583h1M352,577h1M352,578h1M352,579h1M352,580h1M352,581h1M352,582h1M353,574h1M353,575h1M353,578h1M353,579h1M353,581h1M353,583h1M354,575h1M354,576h1M354,577h1M354,578h1M354,579h1M354,580h1M354,581h1M354,582h1M354,583h1M355,575h1M355,577h1M355,578h1M355,579h1M355,580h1M355,581h1M355,582h1M355,583h1M356,577h1M356,578h1M356,579h1M356,580h1M356,581h1M356,582h1M356,586h1M357,576h1M357,577h1M357,578h1M357,579h1M357,580h1M357,581h1M357,582h1M357,585h1M358,575h1M358,577h1M358,578h1M358,579h1M358,580h1M358,581h1M358,582h1M358,583h1M359,574h1M359,575h1M359,576h1M359,577h1M359,578h1M359,579h1M359,580h1M359,581h1M359,582h1M359,583h1M359,586h1M360,576h1M360,577h1M360,578h1M360,579h1M360,580h1M360,581h1M360,582h1M360,583h1M360,584h1M360,585h1M361,577h1M361,578h1M361,580h1M361,581h1M361,582h1M361,583h1M361,584h1M361,585h1M362,577h1M362,578h1M362,579h1M362,580h1M362,581h1M362,582h1M362,583h1M362,584h1M362,585h1M363,576h1M363,577h1M363,579h1M363,580h1M363,581h1M363,582h1M363,583h1M363,584h1M363,585h1M363,586h1M364,573h1M364,579h1M364,580h1M364,581h1M364,582h1M364,583h1M364,584h1M364,585h1M364,586h1M364,587h1M364,589h1M365,578h1M365,580h1M365,581h1M365,582h1M365,583h1M365,584h1M365,585h1M365,587h1M365,588h1M366,579h1M366,580h1M366,582h1M366,583h1M366,584h1M366,585h1M366,586h1M366,587h1M366,588h1M367,580h1M367,581h1M367,582h1M367,583h1M367,584h1M367,585h1M367,586h1M367,587h1M367,588h1M368,580h1M368,581h1M368,582h1M368,583h1M368,584h1M368,585h1M368,586h1M368,587h1M369,580h1M369,581h1M369,583h1M369,584h1M369,585h1M369,586h1M369,587h1M370,580h1M370,581h1M370,582h1M370,583h1M370,584h1M370,585h1M370,586h1M370,587h1M370,589h1M371,583h1M371,584h1M371,585h1M371,586h1M371,587h1M371,590h1M372,584h1M372,585h1M372,586h1M373,582h1M373,585h1M373,586h1M373,587h1M373,589h1M373,590h1M374,585h1M374,588h1M374,592h1M376,587h1" stroke="#000" stroke-width="1" fill="none" transform="translate(0 0.5)" filter="url(#bd)" opacity="0.88"/>
<path d="M329,602h1M329,605h1M330,599h1M330,602h1M330,603h1M330,605h1M331,597h1M331,598h1M331,599h1M331,600h1M331,601h1M331,602h1M331,603h1M331,604h1M331,605h1M331,606h1M331,608h1M332,597h1M332,599h1M332,600h1M332,601h1M332,602h1M332,603h1M332,604h1M332,605h1M332,606h1M332,607h1M332,608h1M332,609h1M333,597h1M333,599h1M333,600h1M333,601h1M333,602h1M333,603h1M333,604h1M333,605h1M333,606h1M333,607h1M333,608h1M333,609h1M333,610h1M334,597h1M334,598h1M334,599h1M334,600h1M334,601h1M334,602h1M334,603h1M334,604h1M334,605h1M334,606h1M334,607h1M334,608h1M334,609h1M335,596h1M335,598h1M335,599h1M335,600h1M335,601h1M335,602h1M335,603h1M335,604h1M335,605h1M335,606h1M335,607h1M335,608h1M335,609h1M336,598h1M336,599h1M336,600h1M336,601h1M336,602h1M336,603h1M336,604h1M336,605h1M336,607h1M336,609h1M336,610h1M337,600h1M337,601h1M337,604h1M337,605h1M337,607h1M338,604h1M339,602h1M362,590h1M362,594h1M362,595h1M362,598h1M363,591h1M363,594h1M363,595h1M363,596h1M363,597h1M363,600h1M364,590h1M364,591h1M364,592h1M364,593h1M364,594h1M364,595h1M364,597h1M364,598h1M364,599h1M364,600h1M365,591h1M365,592h1M365,593h1M365,594h1M365,595h1M365,596h1M365,598h1M365,599h1M365,600h1M365,602h1M366,590h1M366,591h1M366,592h1M366,593h1M366,594h1M366,595h1M366,596h1M366,597h1M366,598h1M366,600h1M366,601h1M367,589h1M367,590h1M367,591h1M367,592h1M367,593h1M367,594h1M367,595h1M367,596h1M367,597h1M367,598h1M367,599h1M367,600h1M367,602h1M368,589h1M368,590h1M368,591h1M368,592h1M368,593h1M368,594h1M368,595h1M368,596h1M368,597h1M368,598h1M368,599h1M368,600h1M368,601h1M369,588h1M369,589h1M369,590h1M369,591h1M369,592h1M369,593h1M369,594h1M369,595h1M369,596h1M369,597h1M369,598h1M369,599h1M369,600h1M369,601h1M370,588h1M370,590h1M370,591h1M370,592h1M370,593h1M370,594h1M370,595h1M370,596h1M370,597h1M370,598h1M370,599h1M370,600h1M370,601h1M370,603h1M371,588h1M371,589h1M371,591h1M371,592h1M371,593h1M371,594h1M371,595h1M371,596h1M371,597h1M371,598h1M371,599h1M371,600h1M371,601h1M372,588h1M372,589h1M372,590h1M372,591h1M372,592h1M372,593h1M372,594h1M372,595h1M372,596h1M372,597h1M372,598h1M372,599h1M372,600h1M372,601h1M373,588h1M373,591h1M373,592h1M373,593h1M373,594h1M373,595h1M373,596h1M373,597h1M373,598h1M373,599h1M373,600h1M373,601h1M374,587h1M374,590h1M374,591h1M374,593h1M374,594h1M374,595h1M374,596h1M374,597h1M374,598h1M374,599h1M375,590h1M375,591h1M375,592h1M375,593h1M375,594h1M375,595h1M375,596h1M375,597h1M375,598h1M375,599h1M375,601h1M376,591h1M376,594h1M376,595h1M376,596h1M376,597h1M376,599h1M377,591h1M377,592h1M377,593h1M377,594h1M377,596h1M377,597h1M377,598h1M377,599h1M378,594h1M378,595h1M378,599h1" stroke="#000" stroke-width="1" fill="none" transform="translate(0 0.5)" filter="url(#bd)"/>
<g transform="translate(296.3 562.5)">
<line x1="0" y1="12.0" x2="97.0" y2="12.0" stroke="#000" stroke-width="0.9" stroke-dasharray="1.2 1"/>
<line x1="0" y1="21.8" x2="97.0" y2="21.8" stroke="#000" stroke-width="0.9" stroke-dasharray="1.2 1"/>
<line x1="0" y1="45.8" x2="97.0" y2="45.8" stroke="#000" stroke-width="0.9" stroke-dasharray="1.2 1"/>
<rect x="0" y="0" width="97.0" height="58.8" fill="none" stroke="#333" stroke-width="0.9"/>
<path d="M3.5,58.8v-1.6M10.2,58.8v-1.6M16.9,58.8v-1.6M23.6,58.8v-1.6M30.3,58.8v-1.6M37.0,58.8v-1.6M43.7,58.8v-1.6M50.4,58.8v-1.6M57.1,58.8v-1.6M63.8,58.8v-1.6M70.5,58.8v-1.6M77.2,58.8v-1.6M83.9,58.8v-1.6M90.6,58.8v-1.6M97.3,58.8v-1.6M0,3.0h1.4M0,7.3h1.4M0,11.6h1.4M0,15.9h1.4M0,20.2h1.4M0,24.5h1.4M0,28.8h1.4M0,33.1h1.4M0,37.4h1.4M0,41.7h1.4M0,46.0h1.4M0,50.3h1.4M0,54.6h1.4" stroke="#000" stroke-width="0.7"/>
<text x="32" y="9.8" font-size="8.3">62</text>
<text x="12.4" y="53.8" font-size="8.3">5.4</text>
<text x="65.2" y="55.8" font-size="10">(2 h)</text>
<text x="99.6" y="14.8" font-size="8">10<tspan dy="-3" font-size="5.5">4</tspan></text>
<text x="99.6" y="24.6" font-size="8">5x10<tspan dy="-3" font-size="5.5">3</tspan></text>
<text x="99.6" y="48.2" font-size="8">10<tspan dy="-3" font-size="5.5">3</tspan></text>
</g>
<g transform="translate(80.2 655.4)">
<rect x="0" y="0" width="97.0" height="58.8" fill="#fff"/>
<polygon points="29.5,16.4 45.8,3.3 68.3,3.7 83.2,18.3 83.2,26.5 56.0,31.0 29.5,34.5" fill="none" stroke="#333" stroke-width="0.95"/>
<polygon points="29.5,34.8 43.8,34.2 44.8,49.5 36.8,52.3 30.6,47.5" fill="none" stroke="#333" stroke-width="0.95"/>
<polygon points="68.3,28.7 83.2,26.5 84.0,41.5 71.3,42.0 68.3,36.3" fill="none" stroke="#333" stroke-width="0.95"/>
<path d="M0,16.6 H29.5 V58.8" fill="none" stroke="#333" stroke-width="0.95"/>
</g>
<path d="M81,683h1M81,695h1M82,669h1M82,680h1M82,689h1M82,700h1M83,685h1M83,693h1M83,696h1M83,697h1M83,698h1M83,701h1M83,708h1M84,669h1M84,678h1M84,703h1M84,705h1M84,710h1M85,695h1M85,700h1M85,701h1M85,702h1M86,691h1M86,695h1M86,696h1M86,697h1M86,710h1M87,686h1M87,693h1M87,695h1M87,710h1M88,669h1M88,676h1M88,680h1M88,681h1M88,682h1M88,689h1M88,690h1M88,700h1M88,706h1M88,712h1M89,669h1M89,690h1M89,691h1M89,694h1M89,695h1M89,697h1M89,700h1M89,707h1M90,679h1M90,682h1M90,687h1M90,690h1M90,692h1M90,697h1M90,698h1M90,699h1M90,702h1M90,706h1M91,674h1M91,675h1M91,684h1M91,689h1M91,690h1M91,693h1M91,696h1M91,699h1M91,705h1M92,689h1M92,693h1M92,694h1M92,702h1M92,704h1M92,706h1M92,707h1M93,684h1M93,698h1M93,707h1M93,708h1M94,685h1M94,688h1M94,696h1M94,697h1M94,705h1M95,678h1M95,694h1M95,695h1M95,700h1M96,697h1M96,703h1M96,710h1M97,670h1M97,694h1M97,706h1M98,686h1M98,689h1M98,696h1M98,702h1M99,667h1M99,668h1M99,689h1M99,701h1M99,707h1M99,712h1M100,681h1M100,704h1M101,701h1M102,687h1M102,691h1M102,700h1M103,678h1M103,689h1M103,696h1M103,700h1M104,673h1M104,677h1M104,690h1M105,682h1M105,692h1M105,706h1M106,671h1M106,686h1M106,687h1M106,695h1M106,706h1M107,673h1M107,675h1M107,687h1M107,692h1M108,686h1M108,705h1M110,691h1M110,706h1M111,679h1M111,692h1M112,665h1M112,693h1M114,675h1M114,680h1M115,670h1M115,679h1M120,709h1M123,662h1M124,695h1M125,695h1M126,686h1M126,687h1M126,690h1M126,692h1M126,695h1M127,688h1M128,658h1M128,688h1M128,693h1M128,695h1M128,700h1M129,689h1M130,683h1M131,685h1M132,683h1M132,688h1M133,687h1M133,695h1M134,676h1M134,706h1M134,710h1M136,685h1M138,664h1M138,684h1M138,689h1M138,693h1M138,701h1M138,703h1M139,688h1M139,693h1M140,676h1M140,696h1M140,699h1M141,687h1M142,667h1M143,695h1M143,696h1M143,697h1M144,696h1M144,702h1M146,676h1M146,678h1M146,697h1M146,704h1M148,688h1M148,704h1M151,676h1M152,679h1M153,680h1M154,694h1M155,667h1M155,679h1M155,708h1M156,700h1M157,668h1M158,700h1M159,670h1M159,680h1M160,674h1M161,667h1M161,668h1M161,672h1M162,663h1M162,665h1M162,667h1M162,670h1M162,677h1M162,678h1M162,702h1M163,662h1M163,674h1M163,677h1M163,683h1M164,670h1M164,676h1M164,677h1M164,680h1M165,670h1M165,671h1M165,672h1M165,674h1M165,677h1M165,678h1M165,679h1M166,664h1M166,674h1M166,676h1M166,687h1M167,666h1M167,668h1M167,670h1M167,671h1M167,672h1M167,675h1M167,676h1M167,677h1M167,680h1M168,670h1M168,672h1M168,676h1M168,677h1M168,678h1M168,679h1M168,680h1M168,696h1M169,668h1M169,673h1M169,674h1M170,664h1M170,666h1M170,673h1M170,674h1M170,686h1M171,669h1M171,674h1M171,675h1M171,677h1M171,681h1M172,666h1M172,671h1M172,676h1M172,677h1M172,678h1M172,679h1M173,668h1M173,670h1M173,671h1M173,673h1M173,675h1M173,679h1M173,680h1M174,665h1M174,668h1M174,669h1M174,691h1M175,670h1M175,679h1M175,704h1" stroke="#000" stroke-width="1" fill="none" transform="translate(0 0.5)" filter="url(#bd)" opacity="0.42"/>
<path d="M113,686h1M114,686h1M114,687h1M114,688h1M114,691h1M114,692h1M114,693h1M115,682h1M115,683h1M115,684h1M115,687h1M115,689h1M116,681h1M116,683h1M116,685h1M116,686h1M116,687h1M116,689h1M117,681h1M117,683h1M117,684h1M117,686h1M117,688h1M117,689h1M118,678h1M118,680h1M118,681h1M118,682h1M118,683h1M118,684h1M118,685h1M118,686h1M118,687h1M118,688h1M118,689h1M118,690h1M118,691h1M119,677h1M119,678h1M119,679h1M119,680h1M119,681h1M119,682h1M119,683h1M119,684h1M119,685h1M119,686h1M119,687h1M119,688h1M119,689h1M119,690h1M120,677h1M120,679h1M120,680h1M120,681h1M120,682h1M120,683h1M120,684h1M120,685h1M120,686h1M120,687h1M120,688h1M120,689h1M120,691h1M120,693h1M121,677h1M121,678h1M121,679h1M121,680h1M121,681h1M121,682h1M121,683h1M121,684h1M121,685h1M121,687h1M121,689h1M121,691h1M122,677h1M122,678h1M122,679h1M122,680h1M122,681h1M122,682h1M122,683h1M122,684h1M122,687h1M122,688h1M122,690h1M122,691h1M123,677h1M123,678h1M123,679h1M123,680h1M123,681h1M123,682h1M123,683h1M123,684h1M123,685h1M123,688h1M124,676h1M124,677h1M124,678h1M124,679h1M124,680h1M124,681h1M124,682h1M124,683h1M124,684h1M124,687h1M125,675h1M125,676h1M125,677h1M125,678h1M125,679h1M125,680h1M125,681h1M125,682h1M125,684h1M125,685h1M126,676h1M126,677h1M126,678h1M126,679h1M126,680h1M126,681h1M126,682h1M126,684h1M127,675h1M127,678h1M127,679h1M127,680h1M127,681h1M127,682h1M127,683h1M128,676h1M128,677h1M128,678h1M128,679h1M128,680h1M128,681h1M128,682h1M128,685h1M129,675h1M129,677h1M129,678h1M129,679h1M129,680h1M129,681h1M129,682h1M129,683h1M130,675h1M130,676h1M130,677h1M130,678h1M130,679h1M130,680h1M130,681h1M130,682h1M131,677h1M131,678h1M131,679h1M131,680h1M131,681h1M131,682h1M131,683h1M132,677h1M132,678h1M132,679h1M132,680h1M132,681h1M132,682h1M133,678h1M133,679h1M133,680h1M133,681h1M133,682h1M133,683h1M133,684h1M134,677h1M134,678h1M134,679h1M134,680h1M134,681h1M134,682h1M135,676h1M135,678h1M135,679h1M135,680h1M135,681h1M135,682h1M135,683h1M136,674h1M136,677h1M136,678h1M136,679h1M136,680h1M136,681h1M136,682h1M136,683h1M136,684h1M137,676h1M137,677h1M137,678h1M137,679h1M137,680h1M137,681h1M137,682h1M137,684h1M137,685h1M138,676h1M138,677h1M138,678h1M138,679h1M138,680h1M138,681h1M138,683h1M139,674h1M139,679h1M139,680h1M139,681h1M139,682h1M139,683h1M139,684h1M140,678h1M140,679h1M140,680h1M140,681h1M140,682h1M140,683h1M141,678h1M141,679h1M141,680h1M141,681h1M141,682h1M141,683h1M141,684h1M141,685h1M142,675h1M142,676h1M142,678h1M142,679h1M142,680h1M142,681h1M142,682h1M142,683h1M142,684h1M142,685h1M142,687h1M143,678h1M143,679h1M143,680h1M143,681h1M143,682h1M143,683h1M143,684h1M143,686h1M144,678h1M144,679h1M144,680h1M144,681h1M144,682h1M144,683h1M144,684h1M144,685h1M144,686h1M145,679h1M145,680h1M145,681h1M145,682h1M145,683h1M145,684h1M145,685h1M146,680h1M146,681h1M146,682h1M146,684h1M146,689h1M147,679h1M147,680h1M147,681h1M147,682h1M147,683h1M147,684h1M147,685h1M147,688h1M148,681h1M148,682h1M148,683h1M148,685h1M148,686h1M148,687h1M148,690h1M150,683h1M151,681h1M151,684h1" stroke="#000" stroke-width="1" fill="none" transform="translate(0 0.5)" filter="url(#bd)" opacity="0.88"/>
<path d="M111,700h1M113,691h1M113,694h1M113,695h1M113,698h1M113,699h1M114,694h1M114,695h1M114,696h1M114,697h1M114,698h1M114,699h1M114,700h1M114,702h1M114,703h1M115,688h1M115,690h1M115,691h1M115,692h1M115,693h1M115,694h1M115,695h1M115,696h1M115,697h1M115,698h1M115,699h1M115,700h1M115,701h1M115,702h1M115,703h1M116,690h1M116,691h1M116,692h1M116,693h1M116,694h1M116,695h1M116,696h1M116,697h1M116,698h1M116,699h1M116,700h1M116,701h1M116,702h1M116,703h1M116,704h1M117,687h1M117,690h1M117,691h1M117,692h1M117,693h1M117,694h1M117,695h1M117,696h1M117,697h1M117,698h1M117,699h1M117,700h1M117,701h1M117,703h1M118,692h1M118,693h1M118,694h1M118,695h1M118,696h1M118,697h1M118,698h1M118,699h1M118,700h1M118,701h1M118,702h1M118,703h1M118,706h1M119,691h1M119,692h1M119,693h1M119,694h1M119,695h1M119,696h1M119,697h1M119,698h1M119,699h1M119,700h1M119,701h1M120,690h1M120,692h1M120,694h1M120,695h1M120,696h1M120,697h1M120,699h1M120,700h1M120,703h1M121,690h1M121,693h1M121,697h1M121,698h1M121,701h1M122,694h1M122,699h1M146,683h1M146,685h1M146,686h1M147,686h1M147,687h1M147,689h1M147,690h1M148,684h1M148,689h1M148,691h1M148,693h1M149,681h1M149,682h1M149,683h1M149,684h1M149,685h1M149,686h1M149,687h1M149,688h1M149,689h1M149,690h1M150,684h1M150,685h1M150,686h1M150,687h1M150,688h1M150,689h1M150,690h1M150,691h1M150,692h1M151,677h1M151,682h1M151,683h1M151,685h1M151,686h1M151,687h1M151,688h1M151,689h1M151,690h1M151,691h1M151,692h1M151,693h1M151,694h1M152,681h1M152,683h1M152,684h1M152,685h1M152,686h1M152,687h1M152,688h1M152,689h1M152,690h1M152,691h1M152,692h1M153,679h1M153,681h1M153,682h1M153,683h1M153,684h1M153,685h1M153,686h1M153,687h1M153,688h1M153,689h1M153,690h1M153,691h1M153,692h1M153,693h1M154,678h1M154,681h1M154,682h1M154,683h1M154,684h1M154,685h1M154,686h1M154,687h1M154,688h1M154,689h1M154,690h1M154,691h1M154,692h1M154,693h1M155,678h1M155,681h1M155,682h1M155,683h1M155,684h1M155,685h1M155,686h1M155,687h1M155,688h1M155,689h1M155,690h1M155,691h1M155,692h1M155,693h1M156,678h1M156,680h1M156,682h1M156,683h1M156,684h1M156,685h1M156,686h1M156,687h1M156,688h1M156,689h1M156,690h1M156,691h1M156,692h1M156,693h1M156,695h1M157,683h1M157,684h1M157,685h1M157,686h1M157,687h1M157,688h1M157,689h1M157,690h1M157,691h1M157,692h1M158,683h1M158,684h1M158,685h1M158,686h1M158,687h1M158,688h1M158,689h1M158,690h1M158,691h1M158,692h1M158,694h1M159,681h1M159,683h1M159,684h1M159,685h1M159,686h1M159,687h1M159,688h1M159,689h1M159,690h1M159,691h1M159,692h1M159,693h1M159,694h1M160,681h1M160,682h1M160,683h1M160,684h1M160,685h1M160,687h1M160,688h1M160,689h1M160,690h1M160,691h1M160,693h1M161,683h1M161,685h1M161,686h1M161,687h1M161,689h1M161,690h1M161,691h1M161,692h1M161,693h1M162,681h1M162,682h1M162,683h1M162,685h1M162,686h1M162,689h1M162,690h1M163,681h1M163,685h1M163,686h1M163,689h1M164,684h1M165,685h1M165,689h1" stroke="#000" stroke-width="1" fill="none" transform="translate(0 0.5)" filter="url(#bd)"/>
<g transform="translate(80.2 655.4)">
<line x1="0" y1="12.0" x2="97.0" y2="12.0" stroke="#000" stroke-width="0.9" stroke-dasharray="1.2 1"/>
<line x1="0" y1="21.8" x2="97.0" y2="21.8" stroke="#000" stroke-width="0.9" stroke-dasharray="1.2 1"/>
<line x1="0" y1="45.8" x2="97.0" y2="45.8" stroke="#000" stroke-width="0.9" stroke-dasharray="1.2 1"/>
<rect x="0" y="0" width="97.0" height="58.8" fill="none" stroke="#333" stroke-width="0.9"/>
<path d="M3.5,58.8v-1.6M10.2,58.8v-1.6M16.9,58.8v-1.6M23.6,58.8v-1.6M30.3,58.8v-1.6M37.0,58.8v-1.6M43.7,58.8v-1.6M50.4,58.8v-1.6M57.1,58.8v-1.6M63.8,58.8v-1.6M70.5,58.8v-1.6M77.2,58.8v-1.6M83.9,58.8v-1.6M90.6,58.8v-1.6M97.3,58.8v-1.6M0,3.0h1.4M0,7.3h1.4M0,11.6h1.4M0,15.9h1.4M0,20.2h1.4M0,24.5h1.4M0,28.8h1.4M0,33.1h1.4M0,37.4h1.4M0,41.7h1.4M0,46.0h1.4M0,50.3h1.4M0,54.6h1.4" stroke="#000" stroke-width="0.7"/>
<text x="22.3" y="9.8" font-size="8.3">55</text>
<text x="9.9" y="53.8" font-size="8.3">3.8</text>
<text x="65.4" y="55.8" font-size="10">(2 h)</text>
<text x="-3.6" y="14.6" font-size="8" text-anchor="end">10<tspan dy="-3" font-size="5.5">4</tspan></text>
<text x="-3.6" y="24.4" font-size="8" text-anchor="end">5x10<tspan dy="-3" font-size="5.5">3</tspan></text>
<text x="-3.6" y="47.2" font-size="8" text-anchor="end">10<tspan dy="-3" font-size="5.5">3</tspan></text>
<text x="29.9" y="68.39999999999999" font-size="8" text-anchor="middle">50</text>
<text x="63.6" y="68.39999999999999" font-size="8" text-anchor="middle">100</text>
<text x="92.4" y="68.39999999999999" font-size="8" text-anchor="middle">150</text>
</g>
<g transform="translate(181.3 655.4)">
<rect x="0" y="0" width="97.0" height="58.8" fill="#fff"/>
<polygon points="29.5,16.4 45.8,3.3 68.3,3.7 83.2,18.3 83.2,26.5 56.0,31.0 29.5,34.5" fill="none" stroke="#333" stroke-width="0.95"/>
<polygon points="29.5,34.8 43.8,34.2 44.8,49.5 36.8,52.3 30.6,47.5" fill="none" stroke="#333" stroke-width="0.95"/>
<polygon points="68.3,28.7 83.2,26.5 84.0,41.5 71.3,42.0 68.3,36.3" fill="none" stroke="#333" stroke-width="0.95"/>
<path d="M0,16.6 H29.5 V58.8" fill="none" stroke="#333" stroke-width="0.95"/>
</g>
<path d="M182,681h1M182,685h1M182,692h1M182,695h1M182,697h1M182,711h1M183,667h1M183,682h1M183,684h1M183,696h1M183,699h1M183,700h1M183,706h1M184,675h1M184,682h1M184,694h1M184,695h1M184,701h1M184,703h1M185,667h1M185,678h1M185,684h1M185,685h1M185,690h1M185,693h1M185,699h1M186,668h1M186,695h1M186,700h1M186,704h1M186,709h1M187,670h1M187,689h1M187,691h1M187,692h1M187,700h1M187,702h1M187,709h1M188,674h1M188,697h1M188,701h1M188,703h1M189,686h1M189,697h1M189,706h1M190,699h1M190,702h1M190,711h1M191,674h1M191,683h1M191,696h1M191,703h1M191,704h1M191,705h1M191,707h1M192,682h1M192,702h1M192,703h1M192,704h1M192,708h1M193,682h1M193,686h1M193,691h1M193,693h1M193,694h1M193,700h1M193,703h1M193,705h1M193,706h1M194,669h1M194,681h1M194,686h1M194,687h1M194,690h1M194,691h1M194,693h1M195,689h1M195,690h1M195,691h1M195,693h1M195,695h1M195,709h1M196,672h1M196,685h1M196,686h1M196,689h1M196,693h1M196,694h1M196,706h1M196,709h1M196,711h1M197,683h1M197,694h1M197,711h1M198,676h1M198,680h1M198,691h1M198,694h1M199,668h1M199,686h1M199,703h1M200,692h1M200,702h1M200,703h1M200,707h1M201,677h1M201,683h1M201,684h1M201,689h1M201,703h1M202,669h1M202,677h1M202,701h1M202,708h1M202,712h1M203,685h1M204,668h1M204,675h1M205,672h1M205,684h1M205,686h1M205,701h1M205,709h1M206,669h1M207,671h1M207,702h1M207,703h1M208,678h1M208,687h1M208,707h1M209,670h1M209,688h1M209,698h1M209,701h1M209,707h1M209,709h1M209,710h1M210,697h1M211,668h1M211,684h1M211,687h1M211,690h1M211,691h1M211,692h1M211,697h1M211,699h1M212,661h1M212,675h1M212,681h1M212,691h1M213,682h1M213,686h1M213,687h1M213,688h1M213,689h1M213,690h1M213,691h1M213,696h1M213,697h1M213,698h1M214,678h1M214,680h1M214,684h1M214,692h1M214,694h1M214,696h1M215,662h1M215,688h1M215,698h1M215,708h1M216,677h1M216,679h1M216,685h1M216,689h1M216,690h1M216,694h1M217,667h1M217,678h1M217,680h1M217,684h1M217,685h1M217,688h1M217,691h1M217,708h1M218,676h1M218,682h1M218,684h1M218,686h1M219,680h1M219,682h1M219,683h1M219,686h1M219,687h1M219,688h1M219,689h1M219,690h1M220,682h1M220,683h1M220,684h1M220,685h1M220,686h1M220,689h1M221,680h1M221,683h1M221,684h1M221,685h1M221,686h1M221,687h1M221,688h1M221,689h1M221,691h1M222,683h1M222,684h1M222,687h1M222,688h1M222,689h1M222,690h1M222,691h1M222,700h1M223,681h1M223,682h1M223,684h1M223,686h1M223,687h1M223,688h1M223,689h1M223,691h1M223,698h1M224,681h1M224,682h1M224,683h1M224,684h1M224,685h1M224,689h1M224,690h1M224,698h1M225,682h1M225,683h1M225,688h1M225,690h1M225,698h1M225,700h1M225,711h1M226,686h1M226,687h1M227,690h1M227,693h1M227,695h1M227,704h1M228,683h1M228,684h1M228,690h1M228,691h1M228,693h1M228,695h1M229,687h1M229,688h1M229,689h1M229,701h1M230,686h1M230,694h1M230,696h1M231,685h1M231,688h1M231,690h1M231,707h1M232,687h1M232,690h1M232,691h1M232,694h1M233,681h1M233,688h1M233,689h1M233,690h1M233,700h1M234,667h1M234,682h1M235,683h1M235,686h1M235,688h1M235,692h1M235,697h1M236,687h1M236,688h1M236,691h1M236,692h1M236,700h1M237,664h1M237,686h1M237,687h1M237,707h1M238,677h1M238,689h1M238,693h1M238,698h1M239,676h1M239,689h1M239,694h1M240,676h1M240,696h1M240,700h1M241,690h1M241,691h1M241,694h1M241,695h1M242,685h1M243,695h1M244,669h1M244,712h1M245,676h1M245,678h1M245,693h1M245,695h1M245,704h1M246,666h1M246,691h1M247,672h1M247,696h1M248,673h1M248,674h1M248,676h1M248,682h1M248,690h1M249,692h1M250,675h1M250,686h1M250,697h1M251,669h1M251,670h1M251,673h1M251,680h1M251,697h1M252,673h1M252,697h1M253,676h1M253,677h1M253,679h1M253,680h1M254,669h1M254,678h1M254,682h1M255,669h1M255,671h1M255,697h1M256,670h1M256,674h1M256,676h1M256,699h1M256,702h1M257,671h1M257,694h1M258,668h1M258,671h1M258,677h1M258,679h1M258,696h1M259,674h1M259,697h1M260,667h1M260,668h1M260,669h1M260,670h1M260,671h1M260,672h1M260,674h1M260,695h1M260,700h1M261,666h1M261,671h1M261,673h1M261,675h1M261,676h1M261,698h1M262,667h1M262,673h1M262,674h1M262,676h1M262,697h1M263,665h1M263,667h1M263,669h1M263,670h1M263,673h1M263,674h1M263,675h1M263,676h1M263,678h1M264,669h1M264,670h1M264,671h1M264,673h1M264,675h1M264,678h1M264,683h1M264,700h1M265,666h1M265,670h1M265,674h1M265,676h1M266,665h1M266,667h1M266,668h1M266,671h1M266,674h1M266,675h1M266,677h1M266,679h1M266,695h1M266,705h1M267,661h1M267,670h1M267,671h1M267,672h1M267,676h1M267,677h1M267,678h1M268,661h1M268,666h1M268,667h1M268,669h1M268,670h1M268,671h1M268,674h1M268,679h1M269,665h1M269,667h1M269,668h1M269,670h1M269,672h1M269,674h1M269,675h1M269,677h1M269,678h1M269,679h1M269,683h1M270,660h1M270,668h1M270,669h1M270,670h1M270,671h1M270,672h1M270,673h1M270,674h1M270,675h1M270,676h1M270,677h1M271,663h1M271,667h1M271,670h1M271,671h1M271,672h1M271,673h1M271,674h1M271,675h1M271,679h1M271,682h1M272,666h1M272,670h1M272,672h1M272,675h1M272,679h1M272,681h1M272,692h1M272,705h1M273,666h1M273,669h1M273,670h1M273,674h1M273,679h1M273,681h1M273,697h1M273,698h1M274,660h1M274,661h1M274,668h1M274,670h1M274,674h1M274,675h1M274,677h1M274,679h1M275,663h1M275,672h1M275,673h1M276,664h1M276,670h1M276,673h1M276,675h1M276,676h1M276,678h1M276,681h1" stroke="#000" stroke-width="1" fill="none" transform="translate(0 0.5)" filter="url(#bd)" opacity="0.42"/>
<path d="M222,670h1M222,681h1M225,668h1M228,682h1M229,681h1M229,682h1M230,672h1M230,677h1M230,680h1M230,681h1M231,678h1M231,682h1M231,683h1M232,674h1M232,676h1M232,677h1M232,680h1M233,671h1M233,673h1M233,676h1M233,678h1M233,679h1M233,680h1M233,682h1M234,673h1M234,674h1M234,676h1M234,677h1M234,680h1M234,681h1M235,676h1M235,678h1M235,679h1M235,680h1M235,681h1M236,671h1M236,673h1M236,675h1M236,676h1M236,677h1M236,678h1M236,679h1M236,680h1M236,681h1M236,682h1M236,684h1M236,685h1M237,672h1M237,674h1M237,675h1M237,676h1M237,677h1M237,679h1M237,680h1M237,681h1M237,683h1M238,675h1M238,678h1M238,680h1M238,681h1M238,682h1M238,683h1M239,674h1M239,675h1M239,678h1M239,680h1M239,681h1M239,682h1M240,677h1M240,678h1M240,679h1M240,680h1M240,681h1M240,682h1M240,683h1M240,684h1M240,685h1M240,686h1M241,674h1M241,675h1M241,677h1M241,678h1M241,679h1M241,680h1M241,681h1M241,683h1M241,684h1M241,685h1M242,675h1M242,676h1M242,677h1M242,678h1M242,680h1M242,681h1M242,682h1M242,683h1M243,676h1M243,677h1M243,678h1M243,679h1M243,680h1M243,681h1M243,682h1M243,683h1M243,684h1M244,675h1M244,677h1M244,678h1M244,679h1M244,680h1M244,681h1M244,682h1M244,683h1M244,685h1M244,686h1M244,687h1M245,679h1M245,680h1M245,681h1M245,683h1M245,684h1M246,677h1M246,678h1M246,679h1M246,680h1M246,681h1M246,683h1M246,685h1M246,687h1M247,675h1M247,678h1M247,679h1M247,680h1M247,681h1M247,683h1M247,684h1M248,677h1M248,680h1M248,681h1M248,683h1M248,684h1M249,678h1M249,681h1M249,682h1M249,689h1M250,680h1M250,682h1M250,683h1M250,685h1M250,688h1M251,677h1M251,681h1M251,685h1M251,689h1M252,680h1M252,691h1M254,679h1M255,680h1M255,681h1M256,679h1M256,681h1M257,678h1" stroke="#000" stroke-width="1" fill="none" transform="translate(0 0.5)" filter="url(#bd)" opacity="0.88"/>
<path d="M190,701h1M192,700h1M193,697h1M193,699h1M193,701h1M194,696h1M194,698h1M194,699h1M194,700h1M194,701h1M194,702h1M195,696h1M195,698h1M195,700h1M195,701h1M196,698h1M196,699h1M196,701h1M197,693h1M197,696h1M197,697h1M197,698h1M197,699h1M197,700h1M197,701h1M198,696h1M198,697h1M198,698h1M198,699h1M198,700h1M198,701h1M199,693h1M199,695h1M199,696h1M199,697h1M199,698h1M199,699h1M199,701h1M200,694h1M200,695h1M200,696h1M200,697h1M200,698h1M200,699h1M200,700h1M201,693h1M201,694h1M201,695h1M201,696h1M201,697h1M201,698h1M201,699h1M201,700h1M202,692h1M202,694h1M202,695h1M202,696h1M202,697h1M202,698h1M202,699h1M203,691h1M203,692h1M203,693h1M203,694h1M203,695h1M203,696h1M203,697h1M203,698h1M203,699h1M203,700h1M204,692h1M204,693h1M204,694h1M204,695h1M204,696h1M204,697h1M204,698h1M204,699h1M205,692h1M205,693h1M205,694h1M205,695h1M205,696h1M205,697h1M205,698h1M206,693h1M206,694h1M206,695h1M206,696h1M207,692h1M207,693h1M207,694h1M207,695h1M207,696h1M207,698h1M208,691h1M208,693h1M208,696h1M208,698h1M209,691h1M209,693h1M209,697h1M210,692h1M210,693h1M210,694h1M212,694h1M214,695h1M215,674h1M215,695h1M215,701h1M216,673h1M216,691h1M216,692h1M216,693h1M216,695h1M216,696h1M216,698h1M216,699h1M216,700h1M216,701h1M217,671h1M217,673h1M217,674h1M217,689h1M217,692h1M217,693h1M217,694h1M217,695h1M217,696h1M217,697h1M217,699h1M217,700h1M217,701h1M217,702h1M218,674h1M218,675h1M218,689h1M218,690h1M218,691h1M218,692h1M218,693h1M218,694h1M218,695h1M218,696h1M218,697h1M218,698h1M218,699h1M218,700h1M218,701h1M218,704h1M219,675h1M219,677h1M219,678h1M219,691h1M219,692h1M219,693h1M219,694h1M219,695h1M219,696h1M219,697h1M219,698h1M219,699h1M219,700h1M219,701h1M219,703h1M220,670h1M220,674h1M220,675h1M220,676h1M220,677h1M220,678h1M220,680h1M220,690h1M220,691h1M220,692h1M220,693h1M220,694h1M220,695h1M220,696h1M220,697h1M220,698h1M220,699h1M220,700h1M220,701h1M220,702h1M220,704h1M221,670h1M221,672h1M221,673h1M221,675h1M221,676h1M221,678h1M221,679h1M221,681h1M221,690h1M221,692h1M221,693h1M221,694h1M221,695h1M221,696h1M221,697h1M221,698h1M221,699h1M221,700h1M221,701h1M221,703h1M222,667h1M222,669h1M222,671h1M222,672h1M222,673h1M222,674h1M222,675h1M222,676h1M222,677h1M222,678h1M222,679h1M222,680h1M222,692h1M222,693h1M222,694h1M222,695h1M222,696h1M222,697h1M222,698h1M222,699h1M222,703h1M223,668h1M223,669h1M223,670h1M223,671h1M223,672h1M223,673h1M223,674h1M223,675h1M223,676h1M223,677h1M223,678h1M223,679h1M223,680h1M223,683h1M223,685h1M223,690h1M223,692h1M223,693h1M223,694h1M223,695h1M223,696h1M223,697h1M223,699h1M224,669h1M224,670h1M224,671h1M224,672h1M224,673h1M224,674h1M224,675h1M224,676h1M224,677h1M224,678h1M224,679h1M224,680h1M224,693h1M225,669h1M225,670h1M225,671h1M225,672h1M225,673h1M225,674h1M225,675h1M225,676h1M225,677h1M225,678h1M225,679h1M225,680h1M225,681h1M225,684h1M226,668h1M226,669h1M226,670h1M226,671h1M226,672h1M226,673h1M226,674h1M226,675h1M226,676h1M226,677h1M226,678h1M226,679h1M226,680h1M226,681h1M226,683h1M227,668h1M227,669h1M227,670h1M227,671h1M227,672h1M227,673h1M227,674h1M227,675h1M227,676h1M227,677h1M227,678h1M227,679h1M227,680h1M227,681h1M227,682h1M228,670h1M228,671h1M228,672h1M228,673h1M228,674h1M228,675h1M228,676h1M228,677h1M228,678h1M228,679h1M228,680h1M228,681h1M229,670h1M229,671h1M229,672h1M229,673h1M229,674h1M229,675h1M229,676h1M229,677h1M229,678h1M229,679h1M229,680h1M230,668h1M230,669h1M230,673h1M230,674h1M230,675h1M230,676h1M230,678h1M230,679h1M231,672h1M231,673h1M231,674h1M231,675h1M231,676h1M231,677h1M231,679h1M231,680h1M231,681h1M232,670h1M232,671h1M232,672h1M232,673h1M232,675h1M232,678h1M233,674h1M233,675h1M233,677h1M234,675h1M234,679h1M243,689h1M245,691h1M245,692h1M246,684h1M247,682h1M247,688h1M248,685h1M248,686h1M248,692h1M249,680h1M249,684h1M249,686h1M249,687h1M249,690h1M249,691h1M250,681h1M250,684h1M250,687h1M250,689h1M250,690h1M250,691h1M250,692h1M250,694h1M251,678h1M251,682h1M251,683h1M251,684h1M251,686h1M251,687h1M251,688h1M251,690h1M251,691h1M251,692h1M251,695h1M252,681h1M252,682h1M252,683h1M252,684h1M252,685h1M252,686h1M252,687h1M252,688h1M252,689h1M252,692h1M252,693h1M253,681h1M253,682h1M253,683h1M253,684h1M253,685h1M253,686h1M253,687h1M253,688h1M253,689h1M253,690h1M253,691h1M253,693h1M253,694h1M253,695h1M253,696h1M253,697h1M254,680h1M254,681h1M254,683h1M254,684h1M254,685h1M254,686h1M254,687h1M254,688h1M254,689h1M254,690h1M254,691h1M254,692h1M254,693h1M254,695h1M254,697h1M254,699h1M255,679h1M255,682h1M255,683h1M255,684h1M255,685h1M255,686h1M255,687h1M255,688h1M255,689h1M255,690h1M255,691h1M255,692h1M255,693h1M255,694h1M255,695h1M255,696h1M256,677h1M256,682h1M256,683h1M256,684h1M256,685h1M256,686h1M256,687h1M256,688h1M256,689h1M256,690h1M256,691h1M256,692h1M256,693h1M256,694h1M256,695h1M257,679h1M257,680h1M257,681h1M257,682h1M257,683h1M257,684h1M257,685h1M257,686h1M257,687h1M257,688h1M257,689h1M257,690h1M257,691h1M257,692h1M257,693h1M257,695h1M257,696h1M258,678h1M258,680h1M258,681h1M258,682h1M258,683h1M258,684h1M258,685h1M258,686h1M258,687h1M258,688h1M258,689h1M258,690h1M258,691h1M258,692h1M258,693h1M258,694h1M258,695h1M259,677h1M259,680h1M259,681h1M259,682h1M259,683h1M259,684h1M259,685h1M259,686h1M259,687h1M259,688h1M259,689h1M259,690h1M259,691h1M259,692h1M259,693h1M259,694h1M259,695h1M259,696h1M260,681h1M260,682h1M260,683h1M260,684h1M260,685h1M260,686h1M260,687h1M260,688h1M260,689h1M260,690h1M260,691h1M260,692h1M260,693h1M260,694h1M261,681h1M261,682h1M261,683h1M261,684h1M261,685h1M261,686h1M261,687h1M261,688h1M261,689h1M261,690h1M261,691h1M261,692h1M261,693h1M261,694h1M261,695h1M261,696h1M262,679h1M262,682h1M262,683h1M262,684h1M262,685h1M262,686h1M262,687h1M262,688h1M262,689h1M262,690h1M262,691h1M262,692h1M262,694h1M262,696h1M263,682h1M263,683h1M263,684h1M263,685h1M263,686h1M263,687h1M263,688h1M263,689h1M263,690h1M263,691h1M263,692h1M263,694h1M264,682h1M264,684h1M264,685h1M264,686h1M264,687h1M264,688h1M264,689h1M264,690h1M264,691h1M264,693h1M264,694h1M265,680h1M265,682h1M265,684h1M265,685h1M265,686h1M265,688h1M265,689h1M265,690h1M265,691h1M265,692h1M265,693h1M266,680h1M266,682h1M266,683h1M266,685h1M266,687h1M266,689h1M266,690h1M266,692h1M267,687h1M267,690h1M267,691h1M267,693h1M267,694h1M268,693h1M269,689h1M270,684h1M270,688h1" stroke="#000" stroke-width="1" fill="none" transform="translate(0 0.5)" filter="url(#bd)"/>
<g transform="translate(181.3 655.4)">
<line x1="0" y1="12.0" x2="97.0" y2="12.0" stroke="#000" stroke-width="0.9" stroke-dasharray="1.2 1"/>
<line x1="0" y1="21.8" x2="97.0" y2="21.8" stroke="#000" stroke-width="0.9" stroke-dasharray="1.2 1"/>
<line x1="0" y1="45.8" x2="97.0" y2="45.8" stroke="#000" stroke-width="0.9" stroke-dasharray="1.2 1"/>
<rect x="0" y="0" width="97.0" height="58.8" fill="none" stroke="#333" stroke-width="0.9"/>
<path d="M3.5,58.8v-1.6M10.2,58.8v-1.6M16.9,58.8v-1.6M23.6,58.8v-1.6M30.3,58.8v-1.6M37.0,58.8v-1.6M43.7,58.8v-1.6M50.4,58.8v-1.6M57.1,58.8v-1.6M63.8,58.8v-1.6M70.5,58.8v-1.6M77.2,58.8v-1.6M83.9,58.8v-1.6M90.6,58.8v-1.6M97.3,58.8v-1.6M0,3.0h1.4M0,7.3h1.4M0,11.6h1.4M0,15.9h1.4M0,20.2h1.4M0,24.5h1.4M0,28.8h1.4M0,33.1h1.4M0,37.4h1.4M0,41.7h1.4M0,46.0h1.4M0,50.3h1.4M0,54.6h1.4" stroke="#000" stroke-width="0.7"/>
<text x="25.4" y="9.8" font-size="8.3">44</text>
<text x="14.7" y="53.8" font-size="8.3">19</text>
<text x="65.6" y="55.8" font-size="10">(4 h)</text>
<text x="29.9" y="68.39999999999999" font-size="8" text-anchor="middle">50</text>
<text x="63.6" y="68.39999999999999" font-size="8" text-anchor="middle">100</text>
<text x="92.4" y="68.39999999999999" font-size="8" text-anchor="middle">150</text>
</g>
<g transform="translate(296.3 655.4)">
<rect x="0" y="0" width="97.0" height="58.8" fill="#fff"/>
<polygon points="29.5,16.4 45.8,3.3 68.3,3.7 83.2,18.3 83.2,26.5 56.0,31.0 29.5,34.5" fill="none" stroke="#333" stroke-width="0.95"/>
<polygon points="29.5,34.8 43.8,34.2 44.8,49.5 36.8,52.3 30.6,47.5" fill="none" stroke="#333" stroke-width="0.95"/>
<polygon points="68.3,28.7 83.2,26.5 84.0,41.5 71.3,42.0 68.3,36.3" fill="none" stroke="#333" stroke-width="0.95"/>
<path d="M0,16.6 H29.5 V58.8" fill="none" stroke="#333" stroke-width="0.95"/>
</g>
<path d="M297,679h1M297,680h1M297,692h1M297,696h1M297,702h1M298,674h1M298,681h1M298,712h1M299,681h1M299,688h1M299,703h1M299,706h1M299,708h1M300,672h1M300,693h1M300,700h1M300,711h1M301,689h1M301,703h1M301,705h1M301,712h1M302,684h1M302,695h1M302,699h1M302,702h1M302,703h1M302,705h1M302,708h1M302,710h1M303,692h1M303,694h1M303,702h1M303,704h1M303,705h1M303,706h1M303,711h1M303,712h1M304,668h1M304,669h1M304,671h1M304,680h1M304,699h1M304,701h1M304,702h1M304,703h1M304,704h1M304,705h1M304,706h1M304,708h1M304,711h1M305,674h1M305,675h1M305,698h1M305,699h1M305,701h1M305,702h1M305,703h1M305,704h1M305,705h1M306,676h1M306,679h1M306,691h1M306,698h1M306,699h1M306,700h1M306,701h1M306,702h1M306,703h1M306,706h1M307,678h1M307,679h1M307,688h1M307,692h1M307,696h1M307,697h1M307,698h1M307,699h1M307,700h1M307,701h1M307,702h1M307,703h1M307,704h1M307,705h1M307,707h1M307,711h1M308,697h1M308,698h1M308,699h1M308,700h1M308,701h1M308,702h1M308,703h1M308,704h1M308,708h1M308,711h1M309,693h1M309,698h1M309,699h1M309,700h1M309,701h1M309,702h1M309,703h1M309,704h1M309,705h1M310,675h1M310,688h1M310,690h1M310,694h1M310,695h1M310,696h1M310,698h1M310,699h1M310,700h1M310,701h1M310,702h1M310,704h1M310,707h1M311,673h1M311,680h1M311,682h1M311,695h1M311,697h1M311,698h1M311,700h1M311,702h1M311,704h1M312,669h1M312,684h1M312,697h1M312,701h1M312,702h1M312,703h1M312,704h1M313,683h1M313,694h1M313,696h1M313,697h1M313,699h1M313,700h1M313,701h1M313,702h1M313,705h1M314,694h1M314,695h1M314,696h1M314,697h1M314,698h1M314,699h1M314,702h1M314,708h1M315,667h1M315,670h1M315,694h1M315,696h1M315,699h1M315,710h1M315,711h1M316,694h1M316,697h1M316,699h1M317,689h1M317,692h1M317,695h1M317,697h1M317,699h1M317,701h1M317,707h1M318,670h1M318,682h1M318,688h1M318,691h1M318,692h1M318,695h1M319,694h1M319,696h1M319,697h1M319,698h1M319,701h1M319,702h1M320,693h1M320,694h1M320,701h1M320,702h1M321,675h1M321,688h1M321,693h1M321,694h1M321,696h1M321,698h1M322,682h1M322,688h1M322,693h1M323,694h1M323,696h1M323,705h1M323,709h1M324,679h1M324,688h1M324,691h1M324,692h1M324,699h1M324,701h1M324,710h1M325,684h1M325,688h1M325,690h1M326,687h1M326,690h1M326,692h1M326,697h1M326,698h1M326,702h1M326,710h1M327,659h1M327,688h1M327,690h1M327,696h1M327,698h1M328,678h1M328,686h1M328,689h1M328,692h1M328,699h1M329,681h1M329,689h1M329,708h1M330,676h1M330,685h1M330,686h1M330,693h1M331,680h1M331,687h1M331,688h1M331,692h1M331,712h1M332,681h1M332,685h1M333,678h1M333,705h1M334,691h1M336,689h1M336,690h1M337,680h1M337,684h1M337,688h1M337,690h1M337,692h1M338,681h1M338,684h1M338,687h1M338,688h1M338,699h1M338,701h1M338,709h1M339,663h1M339,681h1M339,682h1M339,683h1M339,684h1M339,686h1M339,698h1M339,701h1M340,681h1M340,687h1M340,696h1M341,686h1M341,688h1M341,697h1M342,686h1M342,687h1M342,690h1M342,691h1M343,680h1M343,682h1M343,683h1M343,685h1M343,687h1M343,689h1M344,679h1M344,682h1M344,684h1M344,686h1M344,688h1M344,696h1M345,685h1M345,686h1M346,682h1M346,686h1M346,689h1M346,690h1M346,691h1M346,706h1M347,678h1M347,680h1M347,682h1M347,689h1M347,695h1M348,679h1M348,686h1M348,694h1M348,699h1M348,706h1M349,679h1M349,680h1M349,692h1M350,661h1M350,669h1M350,682h1M350,684h1M350,691h1M351,663h1M351,680h1M351,684h1M351,696h1M352,661h1M352,678h1M352,685h1M352,694h1M353,681h1M353,682h1M353,699h1M354,680h1M354,685h1M354,691h1M354,696h1M354,700h1M355,680h1M355,681h1M355,684h1M355,699h1M356,678h1M356,682h1M356,689h1M356,690h1M357,677h1M357,680h1M357,682h1M357,685h1M358,674h1M358,681h1M358,684h1M359,677h1M360,701h1M362,683h1M362,693h1M363,681h1M363,682h1M363,683h1M364,679h1M364,685h1M364,701h1M365,669h1M365,682h1M365,683h1M365,684h1M365,698h1M366,674h1M366,683h1M366,684h1M367,670h1M367,671h1M367,684h1M368,673h1M368,680h1M368,683h1M368,684h1M368,701h1M369,659h1M369,669h1M369,684h1M369,711h1M370,673h1M370,681h1M370,682h1M370,683h1M370,684h1M370,685h1M370,686h1M371,672h1M371,673h1M371,682h1M371,683h1M371,698h1M371,700h1M372,666h1M372,673h1M372,683h1M372,684h1M372,694h1M372,696h1M372,698h1M372,701h1M372,711h1M373,693h1M374,671h1M374,680h1M374,681h1M374,695h1M374,697h1M374,708h1M375,664h1M375,665h1M375,666h1M375,668h1M375,671h1M375,672h1M375,673h1M375,674h1M375,675h1M375,678h1M375,679h1M375,680h1M375,686h1M376,664h1M376,665h1M376,668h1M376,669h1M376,671h1M376,674h1M376,675h1M376,677h1M376,678h1M376,684h1M376,696h1M377,667h1M377,668h1M377,670h1M377,671h1M377,672h1M377,674h1M377,677h1M377,679h1M377,681h1M377,682h1M377,700h1M378,669h1M378,670h1M378,671h1M378,672h1M378,673h1M378,684h1M378,691h1M379,661h1M379,663h1M379,665h1M379,666h1M379,668h1M379,669h1M379,670h1M379,672h1M379,673h1M379,682h1M379,690h1M380,663h1M380,665h1M380,666h1M380,667h1M380,669h1M380,670h1M380,671h1M380,675h1M380,678h1M381,659h1M381,661h1M381,663h1M381,664h1M381,667h1M381,669h1M381,671h1M381,672h1M381,677h1M381,712h1M382,666h1M382,668h1M382,670h1M382,673h1M382,674h1M382,675h1M382,679h1M382,686h1M383,663h1M383,665h1M383,666h1M383,667h1M383,668h1M383,671h1M383,673h1M383,675h1M383,678h1M384,664h1M384,665h1M384,666h1M384,667h1M384,668h1M384,670h1M384,672h1M384,674h1M384,680h1M385,659h1M385,663h1M385,667h1M385,668h1M385,669h1M385,672h1M385,673h1M385,676h1M385,681h1M386,662h1M386,663h1M386,669h1M386,670h1M386,671h1M386,675h1M386,676h1M386,678h1M387,658h1M387,662h1M387,665h1M387,667h1M387,669h1M387,672h1M387,673h1M387,674h1M387,679h1M387,705h1M388,662h1M388,664h1M388,665h1M388,667h1M388,668h1M388,669h1M388,671h1M388,672h1M388,686h1M389,664h1M389,667h1M389,670h1M389,676h1M390,664h1M390,666h1M390,669h1M390,670h1M390,677h1M391,665h1M391,706h1M391,712h1" stroke="#000" stroke-width="1" fill="none" transform="translate(0 0.5)" filter="url(#bd)" opacity="0.42"/>
<path d="M331,686h1M331,691h1M332,679h1M332,688h1M332,690h1M333,671h1M333,683h1M333,684h1M333,685h1M333,686h1M333,687h1M333,688h1M333,689h1M333,690h1M333,691h1M334,673h1M334,674h1M334,677h1M334,679h1M334,680h1M334,681h1M334,682h1M334,683h1M334,684h1M334,685h1M334,686h1M334,687h1M334,688h1M334,689h1M334,690h1M334,692h1M335,671h1M335,672h1M335,673h1M335,674h1M335,675h1M335,676h1M335,677h1M335,678h1M335,679h1M335,680h1M335,681h1M335,682h1M335,683h1M335,684h1M335,685h1M335,686h1M335,687h1M335,688h1M335,689h1M335,690h1M335,691h1M336,668h1M336,671h1M336,672h1M336,673h1M336,674h1M336,675h1M336,676h1M336,677h1M336,678h1M336,679h1M336,680h1M336,681h1M336,682h1M336,688h1M337,671h1M337,672h1M337,674h1M337,675h1M337,676h1M337,677h1M337,678h1M337,679h1M337,681h1M337,682h1M337,685h1M338,667h1M338,671h1M338,672h1M338,673h1M338,674h1M338,676h1M338,678h1M338,683h1M339,669h1M339,670h1M339,671h1M339,672h1M339,673h1M339,674h1M339,675h1M339,676h1M339,678h1M339,680h1M340,669h1M340,671h1M340,672h1M340,673h1M340,674h1M340,675h1M340,676h1M340,677h1M340,678h1M340,679h1M341,671h1M341,672h1M341,673h1M341,674h1M341,675h1M341,676h1M341,677h1M341,680h1M342,669h1M342,672h1M342,673h1M342,674h1M342,675h1M342,676h1M342,678h1M342,679h1M343,668h1M343,669h1M343,670h1M343,671h1M343,672h1M343,673h1M343,674h1M343,675h1M343,676h1M343,677h1M343,679h1M344,669h1M344,670h1M344,671h1M344,672h1M344,673h1M344,674h1M344,675h1M344,676h1M344,677h1M344,678h1M345,668h1M345,670h1M345,671h1M345,672h1M345,673h1M345,674h1M345,675h1M345,676h1M345,677h1M345,678h1M346,670h1M346,671h1M346,672h1M346,673h1M346,674h1M346,675h1M346,676h1M346,677h1M347,669h1M347,671h1M347,672h1M347,673h1M347,674h1M347,675h1M347,676h1M348,669h1M348,670h1M348,671h1M348,672h1M348,673h1M348,674h1M348,675h1M348,676h1M348,677h1M348,678h1M349,669h1M349,671h1M349,672h1M349,674h1M349,675h1M349,676h1M349,677h1M349,678h1M350,670h1M350,671h1M350,672h1M350,673h1M350,674h1M350,675h1M350,676h1M350,677h1M350,678h1M350,679h1M351,669h1M351,670h1M351,671h1M351,672h1M351,673h1M351,674h1M351,675h1M351,676h1M351,677h1M351,678h1M351,679h1M352,669h1M352,670h1M352,671h1M352,672h1M352,673h1M352,674h1M352,675h1M352,676h1M352,677h1M352,679h1M352,680h1M353,668h1M353,670h1M353,671h1M353,672h1M353,673h1M353,674h1M353,675h1M353,676h1M353,677h1M353,678h1M353,679h1M354,666h1M354,668h1M354,669h1M354,671h1M354,672h1M354,673h1M354,674h1M354,675h1M354,676h1M354,677h1M354,678h1M354,679h1M355,669h1M355,670h1M355,671h1M355,672h1M355,673h1M355,674h1M355,675h1M355,676h1M355,677h1M355,678h1M355,679h1M356,667h1M356,669h1M356,671h1M356,672h1M356,673h1M356,674h1M356,675h1M356,676h1M356,677h1M356,680h1M357,670h1M357,672h1M357,673h1M357,674h1M357,675h1M357,676h1M357,678h1M357,679h1M357,681h1M358,670h1M358,671h1M358,672h1M358,673h1M358,675h1M358,676h1M358,677h1M358,678h1M358,679h1M359,670h1M359,671h1M359,675h1M359,676h1M359,679h1M360,670h1M360,673h1M360,674h1M360,675h1M360,676h1M360,677h1M360,678h1M360,679h1M361,671h1M361,673h1M361,674h1M361,676h1M361,677h1M361,679h1M362,672h1M362,675h1M362,676h1M362,677h1M362,680h1M363,672h1M363,675h1M363,676h1M363,677h1M363,678h1M363,679h1M364,676h1M364,677h1M364,678h1M364,680h1M365,674h1M365,675h1M365,676h1M365,677h1M365,678h1M365,679h1M365,680h1M366,675h1M366,676h1M366,677h1M366,679h1M367,673h1M367,674h1M367,675h1M367,677h1M367,678h1M367,679h1M367,680h1M367,682h1M368,676h1M368,677h1M368,678h1M368,679h1M368,681h1M368,682h1M369,676h1M369,677h1M369,678h1M369,679h1M369,680h1M369,681h1M369,682h1M370,678h1M370,679h1M371,675h1M371,677h1M371,679h1M371,680h1M371,681h1M372,677h1M372,679h1M372,680h1M372,681h1M372,682h1M373,678h1M373,680h1M373,683h1M374,675h1M374,676h1M374,683h1M375,677h1M376,680h1M376,681h1M376,683h1M378,680h1" stroke="#000" stroke-width="1" fill="none" transform="translate(0 0.5)" filter="url(#bd)" opacity="0.88"/>
<path d="M329,693h1M329,694h1M329,695h1M329,696h1M329,697h1M329,698h1M330,694h1M330,695h1M330,696h1M330,697h1M330,698h1M330,699h1M330,700h1M330,701h1M330,702h1M330,703h1M331,693h1M331,694h1M331,695h1M331,696h1M331,697h1M331,698h1M331,699h1M331,700h1M331,701h1M331,704h1M331,705h1M332,693h1M332,694h1M332,695h1M332,696h1M332,697h1M332,698h1M332,699h1M332,700h1M332,701h1M332,702h1M332,703h1M333,692h1M333,693h1M333,694h1M333,695h1M333,696h1M333,697h1M333,698h1M333,699h1M333,700h1M333,701h1M333,702h1M333,703h1M334,693h1M334,694h1M334,695h1M334,696h1M334,697h1M334,698h1M334,699h1M334,700h1M334,701h1M334,702h1M334,703h1M334,704h1M335,695h1M335,696h1M335,697h1M335,698h1M335,699h1M335,700h1M335,701h1M335,702h1M335,703h1M335,705h1M336,693h1M336,694h1M336,695h1M336,696h1M336,698h1M336,699h1M336,700h1M336,701h1M336,702h1M337,694h1M337,697h1M337,698h1M359,693h1M361,691h1M361,693h1M362,684h1M362,685h1M362,686h1M362,688h1M362,689h1M362,690h1M362,691h1M363,686h1M363,687h1M363,689h1M363,690h1M363,691h1M363,692h1M363,693h1M363,694h1M364,686h1M364,687h1M364,688h1M364,689h1M364,690h1M364,691h1M364,694h1M364,695h1M365,686h1M365,687h1M365,688h1M365,689h1M365,690h1M365,691h1M365,692h1M365,693h1M365,695h1M366,685h1M366,686h1M366,687h1M366,688h1M366,689h1M366,690h1M366,691h1M366,692h1M366,693h1M366,694h1M366,695h1M366,696h1M367,685h1M367,686h1M367,687h1M367,688h1M367,689h1M367,690h1M367,691h1M367,692h1M367,693h1M368,685h1M368,686h1M368,687h1M368,688h1M368,689h1M368,690h1M368,691h1M368,692h1M368,693h1M368,695h1M368,696h1M369,683h1M369,685h1M369,686h1M369,687h1M369,688h1M369,689h1M369,690h1M369,691h1M369,692h1M369,693h1M369,695h1M370,687h1M370,688h1M370,689h1M370,690h1M370,691h1M370,692h1M370,694h1M371,685h1M371,687h1M371,688h1M371,689h1M371,690h1M371,691h1M371,692h1M371,693h1M371,695h1M372,686h1M372,687h1M372,690h1M372,692h1M373,687h1M373,690h1M374,690h1M374,693h1" stroke="#000" stroke-width="1" fill="none" transform="translate(0 0.5)" filter="url(#bd)"/>
<g transform="translate(296.3 655.4)">
<line x1="0" y1="12.0" x2="97.0" y2="12.0" stroke="#000" stroke-width="0.9" stroke-dasharray="1.2 1"/>
<line x1="0" y1="21.8" x2="97.0" y2="21.8" stroke="#000" stroke-width="0.9" stroke-dasharray="1.2 1"/>
<line x1="0" y1="45.8" x2="97.0" y2="45.8" stroke="#000" stroke-width="0.9" stroke-dasharray="1.2 1"/>
<rect x="0" y="0" width="97.0" height="58.8" fill="none" stroke="#333" stroke-width="0.9"/>
<path d="M3.5,58.8v-1.6M10.2,58.8v-1.6M16.9,58.8v-1.6M23.6,58.8v-1.6M30.3,58.8v-1.6M37.0,58.8v-1.6M43.7,58.8v-1.6M50.4,58.8v-1.6M57.1,58.8v-1.6M63.8,58.8v-1.6M70.5,58.8v-1.6M77.2,58.8v-1.6M83.9,58.8v-1.6M90.6,58.8v-1.6M97.3,58.8v-1.6M0,3.0h1.4M0,7.3h1.4M0,11.6h1.4M0,15.9h1.4M0,20.2h1.4M0,24.5h1.4M0,28.8h1.4M0,33.1h1.4M0,37.4h1.4M0,41.7h1.4M0,46.0h1.4M0,50.3h1.4M0,54.6h1.4" stroke="#000" stroke-width="0.7"/>
<text x="27.6" y="9.8" font-size="8.3">60</text>
<text x="16.6" y="53.8" font-size="8.3">7.3</text>
<text x="63.6" y="55.8" font-size="10">(2 h)</text>
<text x="99.6" y="14.8" font-size="8">10<tspan dy="-3" font-size="5.5">4</tspan></text>
<text x="99.6" y="24.6" font-size="8">5x10<tspan dy="-3" font-size="5.5">3</tspan></text>
<text x="99.6" y="48.2" font-size="8">10<tspan dy="-3" font-size="5.5">3</tspan></text>
<text x="29.9" y="68.39999999999999" font-size="8" text-anchor="middle">50</text>
<text x="63.6" y="68.39999999999999" font-size="8" text-anchor="middle">100</text>
<text x="92.4" y="68.39999999999999" font-size="8" text-anchor="middle">150</text>
</g>
<text x="127.30" y="478.60" font-size="10" text-anchor="middle" >No drug</text>
<text x="346.20" y="479.40" font-size="10" text-anchor="middle" >No drug</text>
<text x="129.40" y="559.80" font-size="10" text-anchor="middle" >MMS 0.001%</text>
<text x="241.50" y="559.80" font-size="10" text-anchor="middle" >Olaparib 10 µmol/L</text>
<text x="346.80" y="559.80" font-size="10" text-anchor="middle" >MMS 0.001%</text>
<text x="91.60" y="640.60" font-size="10" text-anchor="start" >MMS 0.001% +</text>
<text x="91.60" y="652.50" font-size="10" text-anchor="start" >Olaparib 10 µmol/L</text>
<text x="192.20" y="640.60" font-size="10" text-anchor="start" >MMS 0.001% +</text>
<text x="192.20" y="652.50" font-size="10" text-anchor="start" >Olaparib 10 µmol/L</text>
<text x="309.00" y="640.60" font-size="10" text-anchor="start" >MMS 0.001% +</text>
<text x="309.00" y="652.50" font-size="10" text-anchor="start" >Olaparib 10 µmol/L</text>
<!-- outer frame -->
<rect x="0" y="0" width="520" height="1.6" fill="#585858"/>
<rect x="0" y="0" width="1.6" height="767" fill="#585858"/>
<rect x="518.2" y="0" width="1.8" height="767" fill="#686868"/>
<rect x="0" y="765.2" width="520" height="1.8" fill="#6a6a6a"/>
</svg>
</body></html>
